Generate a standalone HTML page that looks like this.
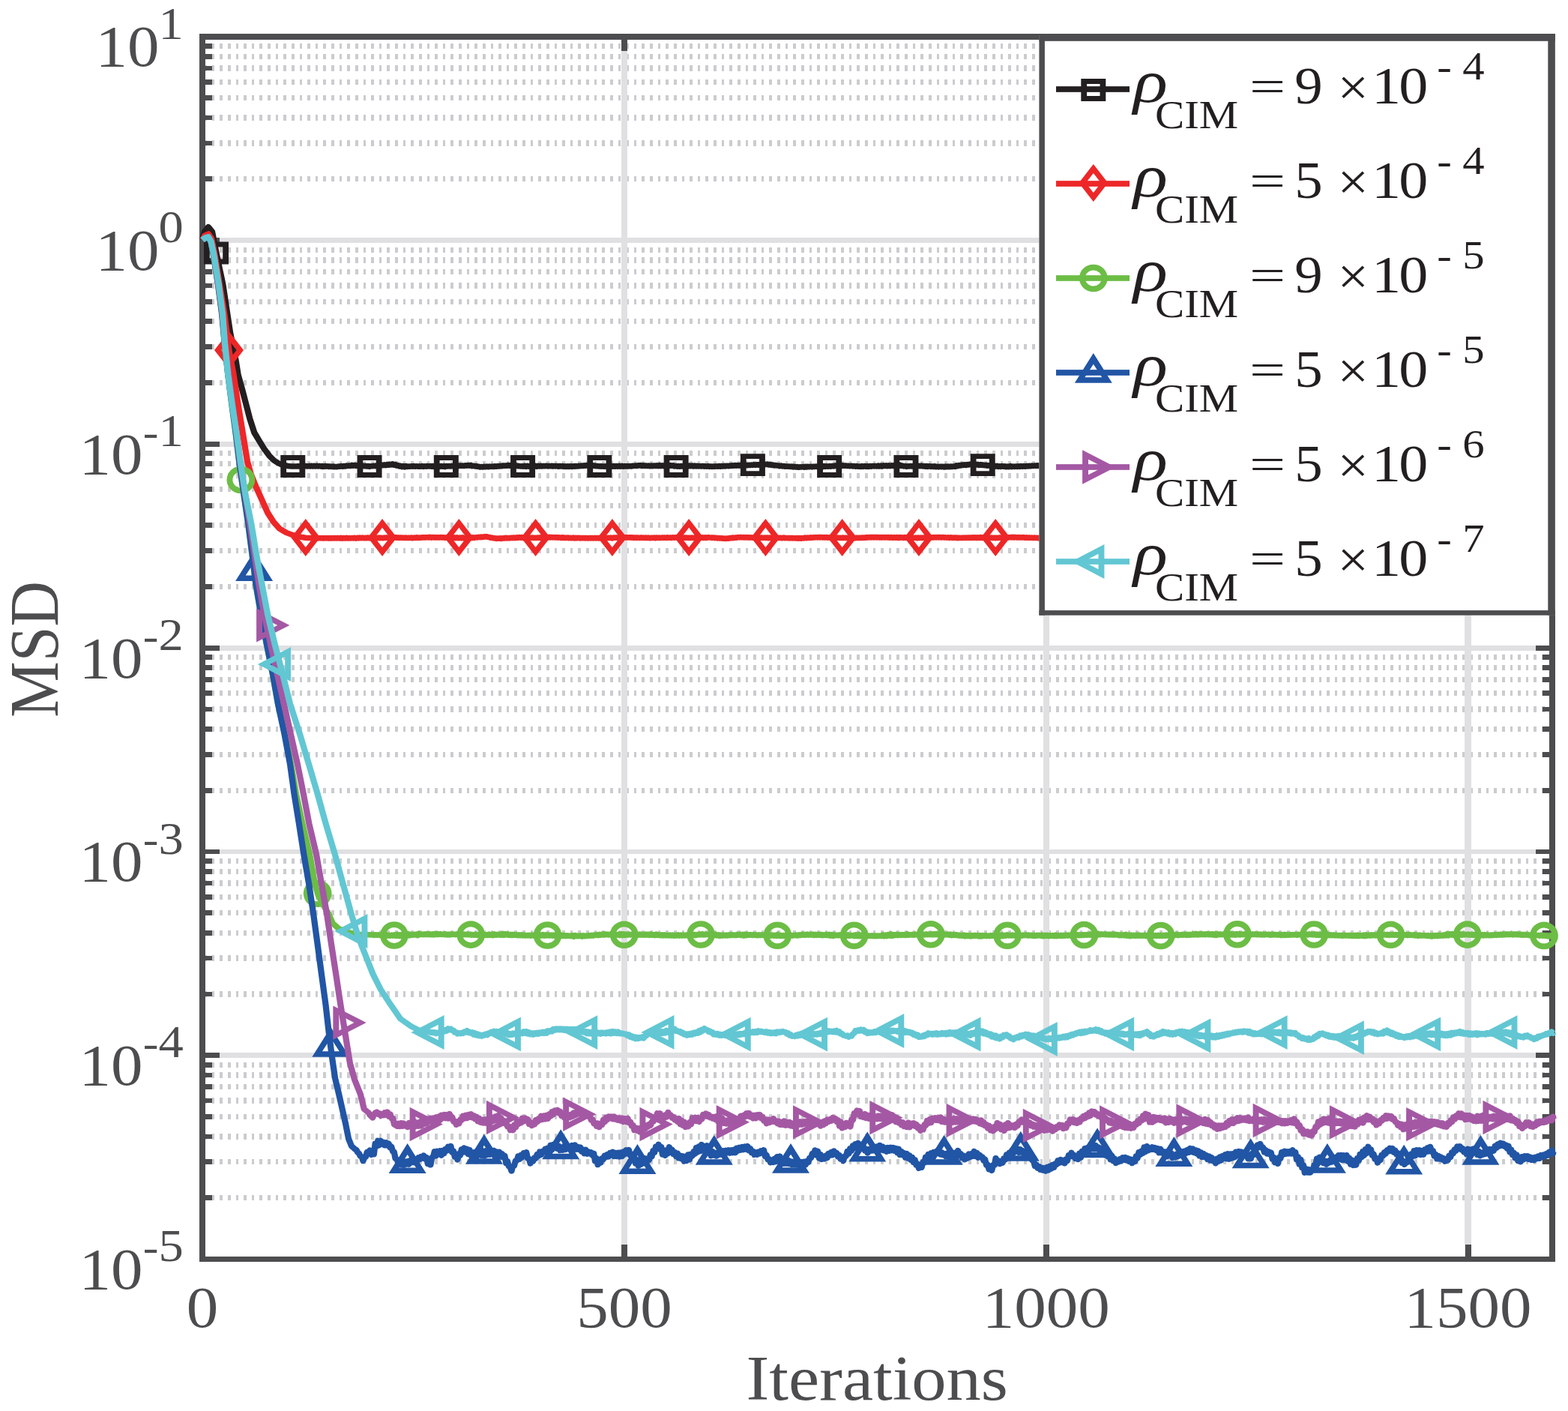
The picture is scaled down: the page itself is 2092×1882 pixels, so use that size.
<!DOCTYPE html>
<html lang="en"><head><meta charset="utf-8"><title>MSD versus Iterations</title><style>html,body{margin:0;padding:0;background:#fff}svg{display:block}</style></head><body><svg xmlns="http://www.w3.org/2000/svg" width="2092" height="1882" viewBox="0 0 2092 1882"><rect width="2092" height="1882" fill="#fff"/><g stroke="#cbccce" stroke-width="7.2" stroke-dasharray="3.5417 7.0833" fill="none" shape-rendering="crispEdges"><line x1="272.1" x2="2067" y1="1597.71" y2="1597.71"/><line x1="272.1" x2="2067" y1="1549.85" y2="1549.85"/><line x1="272.1" x2="2067" y1="1515.90" y2="1515.90"/><line x1="272.1" x2="2067" y1="1489.56" y2="1489.56"/><line x1="272.1" x2="2067" y1="1468.04" y2="1468.04"/><line x1="272.1" x2="2067" y1="1449.85" y2="1449.85"/><line x1="272.1" x2="2067" y1="1434.09" y2="1434.09"/><line x1="272.1" x2="2067" y1="1420.19" y2="1420.19"/><line x1="272.1" x2="2067" y1="1325.94" y2="1325.94"/><line x1="272.1" x2="2067" y1="1278.08" y2="1278.08"/><line x1="272.1" x2="2067" y1="1244.13" y2="1244.13"/><line x1="272.1" x2="2067" y1="1217.79" y2="1217.79"/><line x1="272.1" x2="2067" y1="1196.27" y2="1196.27"/><line x1="272.1" x2="2067" y1="1178.08" y2="1178.08"/><line x1="272.1" x2="2067" y1="1162.32" y2="1162.32"/><line x1="272.1" x2="2067" y1="1148.42" y2="1148.42"/><line x1="272.1" x2="2067" y1="1054.17" y2="1054.17"/><line x1="272.1" x2="2067" y1="1006.31" y2="1006.31"/><line x1="272.1" x2="2067" y1="972.36" y2="972.36"/><line x1="272.1" x2="2067" y1="946.02" y2="946.02"/><line x1="272.1" x2="2067" y1="924.50" y2="924.50"/><line x1="272.1" x2="2067" y1="906.31" y2="906.31"/><line x1="272.1" x2="2067" y1="890.55" y2="890.55"/><line x1="272.1" x2="2067" y1="876.65" y2="876.65"/><line x1="272.1" x2="2067" y1="782.40" y2="782.40"/><line x1="272.1" x2="2067" y1="734.54" y2="734.54"/><line x1="272.1" x2="2067" y1="700.59" y2="700.59"/><line x1="272.1" x2="2067" y1="674.25" y2="674.25"/><line x1="272.1" x2="2067" y1="652.73" y2="652.73"/><line x1="272.1" x2="2067" y1="634.54" y2="634.54"/><line x1="272.1" x2="2067" y1="618.78" y2="618.78"/><line x1="272.1" x2="2067" y1="604.88" y2="604.88"/><line x1="272.1" x2="2067" y1="510.63" y2="510.63"/><line x1="272.1" x2="2067" y1="462.77" y2="462.77"/><line x1="272.1" x2="2067" y1="428.82" y2="428.82"/><line x1="272.1" x2="2067" y1="402.48" y2="402.48"/><line x1="272.1" x2="2067" y1="380.96" y2="380.96"/><line x1="272.1" x2="2067" y1="362.77" y2="362.77"/><line x1="272.1" x2="2067" y1="347.01" y2="347.01"/><line x1="272.1" x2="2067" y1="333.11" y2="333.11"/><line x1="272.1" x2="2067" y1="238.86" y2="238.86"/><line x1="272.1" x2="2067" y1="191.00" y2="191.00"/><line x1="272.1" x2="2067" y1="157.05" y2="157.05"/><line x1="272.1" x2="2067" y1="130.71" y2="130.71"/><line x1="272.1" x2="2067" y1="109.19" y2="109.19"/><line x1="272.1" x2="2067" y1="91.00" y2="91.00"/><line x1="272.1" x2="2067" y1="75.24" y2="75.24"/><line x1="272.1" x2="2067" y1="61.34" y2="61.34"/></g>
<g fill="#e0e0e2" shape-rendering="crispEdges"><rect x="274" y="1404.35" width="1793" height="6.8"/><rect x="274" y="1132.58" width="1793" height="6.8"/><rect x="274" y="860.81" width="1793" height="6.8"/><rect x="274" y="589.04" width="1793" height="6.8"/><rect x="274" y="317.27" width="1793" height="6.8"/><rect x="828.73" y="52.8" width="8.3" height="1623.4"/><rect x="1391.60" y="52.8" width="8.3" height="1623.4"/><rect x="1954.47" y="52.8" width="8.3" height="1623.4"/></g>
<g fill="#4d4d4f" shape-rendering="crispEdges"><rect x="266.05" y="45" width="7.85" height="1637.8"/><rect x="2067" y="45" width="7.85" height="1637.8"/><rect x="266.05" y="45" width="1808.8" height="7.85"/><rect x="266.05" y="1676.1" width="1808.8" height="6.7"/><rect x="273.8" y="1594.31" width="9" height="6.8"/><rect x="2057.9" y="1594.31" width="9.2" height="6.8"/><rect x="273.8" y="1546.45" width="9" height="6.8"/><rect x="2057.9" y="1546.45" width="9.2" height="6.8"/><rect x="273.8" y="1512.50" width="9" height="6.8"/><rect x="2057.9" y="1512.50" width="9.2" height="6.8"/><rect x="273.8" y="1486.16" width="9" height="6.8"/><rect x="2057.9" y="1486.16" width="9.2" height="6.8"/><rect x="273.8" y="1464.64" width="9" height="6.8"/><rect x="2057.9" y="1464.64" width="9.2" height="6.8"/><rect x="273.8" y="1446.45" width="9" height="6.8"/><rect x="2057.9" y="1446.45" width="9.2" height="6.8"/><rect x="273.8" y="1430.69" width="9" height="6.8"/><rect x="2057.9" y="1430.69" width="9.2" height="6.8"/><rect x="273.8" y="1416.79" width="9" height="6.8"/><rect x="2057.9" y="1416.79" width="9.2" height="6.8"/><rect x="273.8" y="1404.35" width="19.1" height="6.8"/><rect x="2048.9" y="1404.35" width="18.2" height="6.8"/><rect x="273.8" y="1322.54" width="9" height="6.8"/><rect x="2057.9" y="1322.54" width="9.2" height="6.8"/><rect x="273.8" y="1274.68" width="9" height="6.8"/><rect x="2057.9" y="1274.68" width="9.2" height="6.8"/><rect x="273.8" y="1240.73" width="9" height="6.8"/><rect x="2057.9" y="1240.73" width="9.2" height="6.8"/><rect x="273.8" y="1214.39" width="9" height="6.8"/><rect x="2057.9" y="1214.39" width="9.2" height="6.8"/><rect x="273.8" y="1192.87" width="9" height="6.8"/><rect x="2057.9" y="1192.87" width="9.2" height="6.8"/><rect x="273.8" y="1174.68" width="9" height="6.8"/><rect x="2057.9" y="1174.68" width="9.2" height="6.8"/><rect x="273.8" y="1158.92" width="9" height="6.8"/><rect x="2057.9" y="1158.92" width="9.2" height="6.8"/><rect x="273.8" y="1145.02" width="9" height="6.8"/><rect x="2057.9" y="1145.02" width="9.2" height="6.8"/><rect x="273.8" y="1132.58" width="19.1" height="6.8"/><rect x="2048.9" y="1132.58" width="18.2" height="6.8"/><rect x="273.8" y="1050.77" width="9" height="6.8"/><rect x="2057.9" y="1050.77" width="9.2" height="6.8"/><rect x="273.8" y="1002.91" width="9" height="6.8"/><rect x="2057.9" y="1002.91" width="9.2" height="6.8"/><rect x="273.8" y="968.96" width="9" height="6.8"/><rect x="2057.9" y="968.96" width="9.2" height="6.8"/><rect x="273.8" y="942.62" width="9" height="6.8"/><rect x="2057.9" y="942.62" width="9.2" height="6.8"/><rect x="273.8" y="921.10" width="9" height="6.8"/><rect x="2057.9" y="921.10" width="9.2" height="6.8"/><rect x="273.8" y="902.91" width="9" height="6.8"/><rect x="2057.9" y="902.91" width="9.2" height="6.8"/><rect x="273.8" y="887.15" width="9" height="6.8"/><rect x="2057.9" y="887.15" width="9.2" height="6.8"/><rect x="273.8" y="873.25" width="9" height="6.8"/><rect x="2057.9" y="873.25" width="9.2" height="6.8"/><rect x="273.8" y="860.81" width="19.1" height="6.8"/><rect x="2048.9" y="860.81" width="18.2" height="6.8"/><rect x="273.8" y="779.00" width="9" height="6.8"/><rect x="2057.9" y="779.00" width="9.2" height="6.8"/><rect x="273.8" y="731.14" width="9" height="6.8"/><rect x="2057.9" y="731.14" width="9.2" height="6.8"/><rect x="273.8" y="697.19" width="9" height="6.8"/><rect x="2057.9" y="697.19" width="9.2" height="6.8"/><rect x="273.8" y="670.85" width="9" height="6.8"/><rect x="2057.9" y="670.85" width="9.2" height="6.8"/><rect x="273.8" y="649.33" width="9" height="6.8"/><rect x="2057.9" y="649.33" width="9.2" height="6.8"/><rect x="273.8" y="631.14" width="9" height="6.8"/><rect x="2057.9" y="631.14" width="9.2" height="6.8"/><rect x="273.8" y="615.38" width="9" height="6.8"/><rect x="2057.9" y="615.38" width="9.2" height="6.8"/><rect x="273.8" y="601.48" width="9" height="6.8"/><rect x="2057.9" y="601.48" width="9.2" height="6.8"/><rect x="273.8" y="589.04" width="19.1" height="6.8"/><rect x="2048.9" y="589.04" width="18.2" height="6.8"/><rect x="273.8" y="507.23" width="9" height="6.8"/><rect x="2057.9" y="507.23" width="9.2" height="6.8"/><rect x="273.8" y="459.37" width="9" height="6.8"/><rect x="2057.9" y="459.37" width="9.2" height="6.8"/><rect x="273.8" y="425.42" width="9" height="6.8"/><rect x="2057.9" y="425.42" width="9.2" height="6.8"/><rect x="273.8" y="399.08" width="9" height="6.8"/><rect x="2057.9" y="399.08" width="9.2" height="6.8"/><rect x="273.8" y="377.56" width="9" height="6.8"/><rect x="2057.9" y="377.56" width="9.2" height="6.8"/><rect x="273.8" y="359.37" width="9" height="6.8"/><rect x="2057.9" y="359.37" width="9.2" height="6.8"/><rect x="273.8" y="343.61" width="9" height="6.8"/><rect x="2057.9" y="343.61" width="9.2" height="6.8"/><rect x="273.8" y="329.71" width="9" height="6.8"/><rect x="2057.9" y="329.71" width="9.2" height="6.8"/><rect x="273.8" y="317.27" width="19.1" height="6.8"/><rect x="2048.9" y="317.27" width="18.2" height="6.8"/><rect x="273.8" y="235.46" width="9" height="6.8"/><rect x="2057.9" y="235.46" width="9.2" height="6.8"/><rect x="273.8" y="187.60" width="9" height="6.8"/><rect x="2057.9" y="187.60" width="9.2" height="6.8"/><rect x="273.8" y="153.65" width="9" height="6.8"/><rect x="2057.9" y="153.65" width="9.2" height="6.8"/><rect x="273.8" y="127.31" width="9" height="6.8"/><rect x="2057.9" y="127.31" width="9.2" height="6.8"/><rect x="273.8" y="105.79" width="9" height="6.8"/><rect x="2057.9" y="105.79" width="9.2" height="6.8"/><rect x="273.8" y="87.60" width="9" height="6.8"/><rect x="2057.9" y="87.60" width="9.2" height="6.8"/><rect x="273.8" y="71.84" width="9" height="6.8"/><rect x="2057.9" y="71.84" width="9.2" height="6.8"/><rect x="273.8" y="57.94" width="9" height="6.8"/><rect x="2057.9" y="57.94" width="9.2" height="6.8"/><rect x="828.77" y="1660" width="8.2" height="16.3"/><rect x="828.77" y="52.7" width="8.2" height="15.5"/><rect x="1391.65" y="1660" width="8.2" height="16.3"/><rect x="1391.65" y="52.7" width="8.2" height="15.5"/><rect x="1954.53" y="1660" width="8.2" height="16.3"/><rect x="1954.53" y="52.7" width="8.2" height="15.5"/></g>
<g font-family="'Liberation Serif','Times New Roman',Times,serif"><text transform="translate(270.00 1770.40) scale(1.0830 1)" font-size="78.5" text-anchor="middle" fill="#4d4d4f">0</text><text transform="translate(832.88 1770.40) scale(1.0830 1)" font-size="78.5" text-anchor="middle" fill="#4d4d4f">500</text><text transform="translate(1395.75 1770.40) scale(1.0830 1)" font-size="78.5" text-anchor="middle" fill="#4d4d4f">1000</text><text transform="translate(1958.62 1770.40) scale(1.0830 1)" font-size="78.5" text-anchor="middle" fill="#4d4d4f">1500</text><text transform="translate(127.60 88.30) scale(1.0830 1)" font-size="78.5" text-anchor="start" fill="#4d4d4f">10</text><text transform="translate(211.40 51.50) scale(1.1000 1)" font-size="60.5" text-anchor="start" fill="#4d4d4f">1</text><text transform="translate(127.60 360.07) scale(1.0830 1)" font-size="78.5" text-anchor="start" fill="#4d4d4f">10</text><text transform="translate(211.40 323.27) scale(1.1000 1)" font-size="60.5" text-anchor="start" fill="#4d4d4f">0</text><text transform="translate(105.50 631.84) scale(1.0830 1)" font-size="78.5" text-anchor="start" fill="#4d4d4f">10</text><text transform="translate(190.70 594.84) scale(1.1300 1)" font-size="55.0" text-anchor="start" fill="#4d4d4f">-</text><text transform="translate(211.40 595.04) scale(1.1000 1)" font-size="60.5" text-anchor="start" fill="#4d4d4f">1</text><text transform="translate(105.50 903.61) scale(1.0830 1)" font-size="78.5" text-anchor="start" fill="#4d4d4f">10</text><text transform="translate(190.70 866.61) scale(1.1300 1)" font-size="55.0" text-anchor="start" fill="#4d4d4f">-</text><text transform="translate(211.40 866.81) scale(1.1000 1)" font-size="60.5" text-anchor="start" fill="#4d4d4f">2</text><text transform="translate(105.50 1175.38) scale(1.0830 1)" font-size="78.5" text-anchor="start" fill="#4d4d4f">10</text><text transform="translate(190.70 1138.38) scale(1.1300 1)" font-size="55.0" text-anchor="start" fill="#4d4d4f">-</text><text transform="translate(211.40 1138.58) scale(1.1000 1)" font-size="60.5" text-anchor="start" fill="#4d4d4f">3</text><text transform="translate(105.50 1447.15) scale(1.0830 1)" font-size="78.5" text-anchor="start" fill="#4d4d4f">10</text><text transform="translate(190.70 1410.15) scale(1.1300 1)" font-size="55.0" text-anchor="start" fill="#4d4d4f">-</text><text transform="translate(211.40 1410.35) scale(1.1000 1)" font-size="60.5" text-anchor="start" fill="#4d4d4f">4</text><text transform="translate(105.50 1718.92) scale(1.0830 1)" font-size="78.5" text-anchor="start" fill="#4d4d4f">10</text><text transform="translate(190.70 1681.92) scale(1.1300 1)" font-size="55.0" text-anchor="start" fill="#4d4d4f">-</text><text transform="translate(211.40 1682.12) scale(1.1000 1)" font-size="60.5" text-anchor="start" fill="#4d4d4f">5</text><text transform="translate(1170.20 1866.90) scale(1.0820 1)" font-size="85.5" text-anchor="middle" fill="#4d4d4f">Iterations</text><text transform="translate(77.10 866.00) scale(1.1100 1) rotate(-90)" font-size="84.0" text-anchor="middle" fill="#4d4d4f">MSD</text></g>
<path transform="scale(1.1 1)" d="M245.5 320.0L248.2 309.0L252.7 302.7L257.3 309.0L262.3 337.5L266.4 359.0L270.3 378.9L275.7 418.5L279.1 443.0L282.1 460.0L285.9 480.0L288.8 500.0L293.7 519.2L298.3 538.5L302.8 557.7L308.4 576.9L314.7 588.5L320.3 598.5L326.5 607.7L332.2 614.0L337.1 617.5L341.8 619.8L347.3 621.0L349.1 621.6L350.0 621.7L351.6 621.8L353.3 621.9L354.9 621.9L356.5 622.0L358.2 621.9L359.8 622.0L361.5 621.7L363.1 622.1L364.7 621.7L366.4 622.0L368.0 621.6L369.6 621.9L371.3 621.5L372.9 622.0L374.5 621.4L376.2 622.0L377.8 621.3L379.5 621.9L381.1 621.3L382.7 621.9L384.4 621.3L386.0 621.9L387.6 621.4L389.3 622.2L390.9 621.5L392.5 622.4L394.2 621.5L395.8 622.2L397.5 621.8L399.1 622.4L400.7 621.9L402.4 622.6L404.0 622.0L405.6 622.7L407.3 622.4L408.9 622.8L410.5 621.9L412.2 622.3L413.8 621.6L415.5 622.2L417.1 621.5L418.7 622.1L420.4 621.1L422.0 621.6L423.6 621.0L425.3 621.6L426.9 620.4L428.5 621.3L430.2 620.4L431.8 621.4L433.5 620.8L435.1 621.5L436.7 621.0L438.4 621.7L440.0 621.1L441.6 621.8L443.3 621.3L444.9 622.1L446.5 621.5L448.2 622.4L449.8 621.7L451.5 621.8L453.1 621.3L454.7 621.7L456.4 621.0L458.0 621.4L459.6 620.5L461.3 621.0L462.9 620.1L464.5 620.8L466.2 619.9L467.8 620.7L469.5 619.5L471.1 620.3L472.7 619.3L474.4 620.0L476.0 618.8L477.6 620.3L479.3 619.5L480.9 621.1L482.5 620.5L484.2 621.9L485.8 621.3L487.5 622.6L489.1 621.6L490.7 622.8L492.4 621.5L494.0 622.5L495.6 621.9L497.3 622.3L498.9 621.7L500.5 622.2L502.2 621.6L503.8 622.3L505.5 621.7L507.1 622.3L508.7 621.8L510.4 622.3L512.0 621.6L513.6 622.4L515.3 621.8L516.9 622.2L518.5 621.6L520.2 622.1L521.8 621.6L523.5 622.2L525.1 621.5L526.7 622.5L528.4 621.6L530.0 622.2L531.6 621.8L533.3 622.4L534.9 621.6L536.5 622.3L538.2 621.6L539.8 622.6L541.5 621.6L543.1 622.1L544.7 621.5L546.4 622.1L548.0 621.4L549.6 621.9L551.3 621.3L552.9 621.7L554.5 621.1L556.2 621.7L557.8 620.9L559.5 621.4L561.1 620.9L562.7 621.5L564.4 620.8L566.0 621.2L567.6 620.7L569.3 621.2L570.9 620.4L572.5 621.7L574.2 621.2L575.8 622.0L577.5 621.5L579.1 622.4L580.7 622.2L582.4 623.0L584.0 622.4L585.6 623.0L587.3 622.3L588.9 622.8L590.5 622.1L592.2 622.8L593.8 622.0L595.5 622.5L597.1 622.0L598.7 622.5L600.4 621.8L602.0 622.3L603.6 621.6L605.3 622.1L606.9 621.3L608.5 621.8L610.2 621.0L611.8 621.4L613.5 621.0L615.1 621.2L616.7 620.5L618.4 621.2L620.0 620.4L621.6 621.4L623.3 620.9L624.9 621.4L626.5 621.0L628.2 621.8L629.8 621.4L631.5 622.1L633.1 621.7L634.7 622.2L636.4 621.4L638.0 622.5L639.6 621.3L641.3 622.2L642.9 621.6L644.5 622.4L646.2 621.6L647.8 622.4L649.5 621.3L651.1 622.2L652.7 621.3L654.4 621.9L656.0 621.3L657.6 621.9L659.3 621.4L660.9 621.8L662.5 621.2L664.2 621.9L665.8 621.4L667.5 621.8L669.1 621.3L670.7 622.0L672.4 621.4L674.0 621.9L675.6 621.5L677.3 622.2L678.9 621.5L680.5 622.1L682.2 621.5L683.8 622.4L685.5 621.8L687.1 622.4L688.7 621.8L690.4 622.5L692.0 621.7L693.6 622.5L695.3 621.7L696.9 622.2L698.5 621.6L700.2 622.1L701.8 621.3L703.5 621.8L705.1 620.9L706.7 621.6L708.4 620.7L710.0 621.3L711.6 620.6L713.3 621.3L714.9 620.3L716.5 621.2L718.2 620.6L719.8 621.5L721.5 621.0L723.1 621.8L724.7 621.4L726.4 622.1L728.0 621.7L729.6 622.2L731.3 621.8L732.9 622.3L734.5 621.8L736.2 622.2L737.8 621.6L739.5 622.3L741.1 621.5L742.7 622.2L744.4 621.5L746.0 622.2L747.6 621.6L749.3 622.2L750.9 621.4L752.5 622.3L754.2 621.4L755.8 622.2L757.5 621.6L759.1 622.1L760.7 621.6L762.4 622.1L764.0 621.5L765.6 622.0L767.3 621.2L768.9 621.6L770.5 620.9L772.2 621.6L773.8 620.7L775.5 621.1L777.1 620.5L778.7 621.5L780.4 620.8L782.0 621.5L783.6 621.0L785.3 621.6L786.9 621.0L788.5 621.8L790.2 621.0L791.8 621.8L793.5 620.9L795.1 621.6L796.7 620.8L798.4 621.7L800.0 620.5L801.6 621.6L803.3 620.7L804.9 621.6L806.5 620.6L808.2 621.4L809.8 620.6L811.5 621.3L813.1 620.5L814.7 621.3L816.4 620.8L818.0 622.0L819.6 621.4L821.3 622.2L822.9 621.6L824.5 622.3L826.2 621.5L827.8 622.1L829.5 621.4L831.1 622.0L832.7 621.3L834.4 621.9L836.0 621.0L837.6 621.7L839.3 621.1L840.9 622.0L842.5 621.1L844.2 621.9L845.8 621.3L847.5 621.9L849.1 621.6L850.7 622.1L852.4 621.4L854.0 622.2L855.6 621.7L857.3 622.3L858.9 621.6L860.5 622.4L862.2 621.9L863.8 622.4L865.5 622.0L867.1 622.4L868.7 621.7L870.4 622.3L872.0 621.6L873.6 622.2L875.3 621.5L876.9 622.1L878.5 621.3L880.2 621.9L881.8 621.2L883.5 621.8L885.1 621.1L886.7 621.5L888.4 620.8L890.0 621.3L891.6 620.5L893.3 621.2L894.9 620.4L896.5 621.2L898.2 620.5L899.8 620.9L901.5 620.2L903.1 620.8L904.7 620.2L906.4 620.8L908.0 620.2L909.6 620.5L911.3 620.1L912.9 620.4L914.5 619.7L916.2 620.4L917.8 619.7L919.5 620.2L921.1 619.5L922.7 620.0L924.4 619.3L926.0 619.7L927.6 619.2L929.3 619.6L930.9 619.1L932.5 620.1L934.2 619.6L935.8 620.5L937.5 619.9L939.1 621.0L940.7 620.4L942.4 621.1L944.0 620.9L945.6 621.8L947.3 621.1L948.9 622.0L950.5 621.5L952.2 622.2L953.8 621.9L955.5 622.3L957.1 622.0L958.7 622.6L960.4 622.0L962.0 622.9L963.6 622.3L965.3 623.1L966.9 622.5L968.5 623.3L970.2 622.8L971.8 623.1L973.5 622.4L975.1 623.2L976.7 622.2L978.4 623.0L980.0 622.3L981.6 622.8L983.3 622.2L984.9 622.9L986.5 622.2L988.2 622.6L989.8 622.0L991.5 622.6L993.1 621.7L994.7 622.5L996.4 621.5L998.0 622.7L999.6 621.6L1001.3 622.5L1002.9 621.7L1004.5 622.3L1006.2 621.6L1007.8 622.2L1009.5 621.4L1011.1 621.9L1012.7 621.0L1014.4 621.6L1016.0 620.7L1017.6 621.2L1019.3 620.5L1020.9 621.4L1022.5 620.8L1024.2 621.3L1025.8 621.0L1027.5 621.6L1029.1 621.2L1030.7 621.8L1032.4 621.2L1034.0 622.0L1035.6 621.4L1037.3 622.3L1038.9 621.6L1040.5 622.3L1042.2 621.9L1043.8 622.6L1045.5 621.6L1047.1 622.4L1048.7 621.6L1050.4 622.4L1052.0 621.6L1053.6 622.5L1055.3 621.6L1056.9 622.2L1058.5 621.4L1060.2 621.9L1061.8 621.4L1063.5 622.1L1065.1 621.1L1066.7 622.0L1068.4 621.0L1070.0 622.1L1071.6 620.9L1073.3 621.6L1074.9 620.8L1076.5 621.7L1078.2 620.8L1079.8 621.6L1081.5 620.7L1083.1 621.5L1084.7 620.5L1086.4 621.5L1088.0 620.4L1089.6 621.4L1091.3 620.2L1092.9 621.4L1094.5 621.0L1096.2 621.9L1097.8 621.6L1099.5 622.4L1101.1 621.7L1102.7 622.1L1104.4 621.4L1106.0 622.1L1107.6 621.4L1109.3 622.1L1110.9 621.1L1112.5 621.8L1114.2 621.2L1115.8 621.8L1117.5 621.1L1119.1 622.0L1120.7 621.5L1122.4 622.3L1124.0 621.5L1125.6 622.4L1127.3 621.7L1128.9 622.4L1130.5 621.9L1132.2 622.5L1133.8 621.8L1135.5 622.8L1137.1 622.2L1138.7 622.9L1140.4 622.2L1142.0 622.7L1143.6 622.2L1145.3 623.0L1146.9 622.0L1148.5 622.8L1150.2 622.0L1151.8 622.8L1153.5 622.0L1155.1 622.6L1156.7 622.0L1158.4 622.4L1160.0 620.9L1161.6 621.8L1163.3 620.5L1164.9 621.1L1166.5 620.0L1168.2 620.5L1169.8 619.8L1171.5 620.5L1173.1 619.5L1174.7 620.0L1176.4 619.3L1178.0 619.7L1179.6 619.2L1181.3 620.0L1182.9 619.1L1184.5 620.1L1186.2 619.5L1187.8 620.4L1189.5 619.6L1191.1 620.5L1192.7 620.1L1194.4 620.8L1196.0 620.2L1197.6 621.2L1199.3 620.7L1200.9 621.6L1202.5 621.1L1204.2 621.7L1205.8 621.3L1207.5 622.2L1209.1 621.4L1210.7 622.5L1212.4 621.8L1214.0 622.4L1215.6 621.6L1217.3 622.4L1218.9 621.7L1220.5 622.7L1222.2 622.0L1223.8 622.7L1225.5 621.6L1227.1 622.7L1228.7 621.9L1230.4 622.6L1232.0 621.9L1233.6 622.4L1235.3 621.8L1236.9 622.4L1238.5 621.6L1240.2 622.3L1241.8 621.6L1243.5 622.3L1245.1 621.5L1246.7 621.9L1248.4 621.3L1250.0 621.8L1251.6 621.1L1253.3 621.6L1254.9 621.0L1256.5 621.5L1258.2 620.8L1259.8 621.4L1261.5 620.9L1263.1 621.3L1264.7 621.0L1266.4 621.6L1268.0 620.8L1269.6 621.9L1271.3 621.1L1272.9 621.8L1274.5 621.3L1276.2 622.0L1277.8 621.4L1279.5 622.3L1281.1 621.5L1282.7 622.2L1284.4 621.7L1286.0 622.4L1287.6 621.6L1289.3 622.3L1290.9 621.7L1292.5 622.4L1294.2 621.8L1295.8 622.3L1297.5 621.6L1299.1 622.7L1300.7 621.6L1302.4 622.4L1304.0 621.5L1305.6 622.4L1307.3 621.7L1308.9 622.5L1310.5 621.5L1312.2 622.4L1313.8 621.6L1315.5 622.3L1317.1 621.7L1318.7 622.3L1320.4 621.7L1322.0 622.1L1323.6 621.6L1325.3 622.3L1326.9 621.8L1328.5 622.4L1330.2 621.6L1331.8 622.4L1333.5 621.5L1335.1 622.4L1336.7 621.6L1338.4 622.3L1340.0 621.7L1341.6 622.3L1343.3 621.7L1344.9 622.3L1346.5 621.6L1348.2 622.2L1349.8 621.8L1351.5 622.3L1353.1 621.6L1354.7 622.2L1356.4 621.5L1358.0 622.4L1359.6 621.7L1361.3 622.4L1362.9 621.7L1364.5 622.1L1366.2 621.6L1367.8 622.4L1369.5 621.8L1371.1 622.5L1372.7 621.7L1374.4 622.4L1376.0 621.5L1377.6 622.5L1379.3 621.5L1380.9 622.5L1382.5 621.5L1384.2 622.4L1385.8 621.7L1387.5 622.3L1389.1 621.7L1390.7 622.4L1392.4 621.8L1394.0 622.3L1395.6 621.6L1397.3 622.3L1398.9 621.7L1400.5 622.2L1402.2 621.8L1403.8 622.4L1405.5 621.8L1407.1 622.4L1408.7 621.7L1410.4 622.2L1412.0 621.8L1413.6 622.2L1415.3 621.8L1416.9 622.3L1418.5 621.5L1420.2 622.3L1421.8 621.5L1423.5 622.4L1425.1 621.7L1426.7 622.2L1428.4 621.8L1430.0 622.2L1431.6 621.7L1433.3 622.3L1434.9 621.7L1436.5 622.3L1438.2 621.5L1439.8 622.4L1441.5 621.6L1443.1 622.4L1444.7 621.4L1446.4 622.4L1448.0 621.4L1449.6 622.5L1451.3 621.7L1452.9 622.6L1454.5 621.4L1456.2 622.4L1457.8 621.5L1459.5 622.3L1461.1 621.6L1462.7 622.6L1464.4 621.5L1466.0 622.6L1467.6 621.5L1469.3 622.2L1470.9 621.6L1472.5 622.4L1474.2 621.5L1475.8 622.5L1477.5 621.4L1479.1 622.5L1480.7 621.6L1482.4 622.2L1484.0 621.5L1485.6 622.4L1487.3 621.8L1488.9 622.6L1490.5 621.4L1492.2 622.2L1493.8 621.8L1495.5 622.3L1497.1 621.7L1498.7 622.3L1500.4 621.8L1502.0 622.4L1503.6 621.6L1505.3 622.4L1506.9 621.6L1508.5 622.2L1510.2 621.8L1511.8 622.3L1513.5 621.7L1515.1 622.4L1516.7 621.6L1518.4 622.3L1520.0 621.6L1521.6 622.5L1523.3 621.5L1524.9 622.5L1526.5 621.7L1528.2 622.5L1529.8 621.5L1531.5 622.5L1533.1 621.5L1534.7 622.4L1536.4 621.7L1538.0 622.4L1539.6 621.7L1541.3 622.3L1542.9 621.7L1544.5 622.3L1546.2 621.7L1547.8 622.2L1549.5 621.8L1551.1 622.4L1552.7 621.8L1554.4 622.4L1556.0 621.5L1557.6 622.3L1559.3 621.8L1560.9 622.4L1562.5 621.5L1564.2 622.3L1565.8 621.8L1567.5 622.5L1569.1 621.8L1570.7 622.5L1572.4 621.7L1574.0 622.4L1575.6 621.7L1577.3 622.4L1578.9 621.8L1580.5 622.4L1582.2 621.8L1583.8 622.2L1585.5 621.8L1587.1 622.3L1588.7 621.8L1590.4 622.4L1592.0 621.6L1593.6 622.3L1595.3 621.8L1596.9 622.2L1598.5 621.8L1600.2 622.4L1601.8 621.6L1603.5 622.2L1605.1 621.8L1606.7 622.2L1608.4 621.6L1610.0 622.3L1611.6 621.6L1613.3 622.4L1614.9 621.7L1616.5 622.4L1618.2 621.5L1619.8 622.3L1621.5 621.7L1623.1 622.3L1624.7 621.8L1626.4 622.2L1628.0 621.6L1629.6 622.2L1631.3 621.8L1632.9 622.3L1634.5 621.7L1636.2 622.4L1637.8 621.7L1639.5 622.3L1641.1 621.6L1642.7 622.4L1644.4 621.5L1646.0 622.4L1647.6 621.5L1649.3 622.3L1650.9 621.6L1652.5 622.2L1654.2 621.8L1655.8 622.4L1657.5 621.6L1659.1 622.3L1660.7 621.6L1662.4 622.4L1664.0 621.7L1665.6 622.2L1667.3 621.7L1668.9 622.4L1670.5 621.8L1672.2 622.2L1673.8 621.7L1675.5 622.3L1677.1 621.7L1678.7 622.4L1680.4 621.8L1682.0 622.3L1683.6 621.7L1685.3 622.3L1686.9 621.7L1688.5 622.2L1690.2 621.6L1691.8 622.3L1693.5 621.8L1695.1 622.2L1696.7 621.6L1698.4 622.4L1700.0 621.6L1701.6 622.3L1703.3 621.8L1704.9 622.3L1706.5 621.7L1708.2 622.3L1709.8 621.8L1711.5 622.2L1713.1 621.7L1714.7 622.4L1716.4 621.5L1718.0 622.4L1719.6 621.8L1721.3 622.2L1722.9 621.7L1724.5 622.2L1726.2 621.6L1727.8 622.2L1729.5 621.5L1731.1 622.2L1732.7 621.6L1734.4 622.2L1736.0 621.7L1737.6 622.4L1739.3 621.7L1740.9 622.3L1742.5 621.7L1744.2 622.4L1745.8 621.6L1747.5 622.3L1749.1 621.5L1750.7 622.3L1752.4 621.8L1754.0 622.4L1755.6 621.5L1757.3 622.2L1758.9 621.6L1760.5 622.4L1762.2 621.6L1763.8 622.3L1765.5 621.8L1767.1 622.3L1768.7 621.8L1770.4 622.3L1772.0 621.8L1773.6 622.3L1775.3 621.6L1776.9 622.4L1778.5 621.6L1780.2 622.3L1781.8 621.5L1783.5 622.4L1785.1 621.8L1786.7 622.4L1788.4 621.7L1790.0 622.4L1791.6 621.7L1793.3 622.3L1794.9 621.7L1796.5 622.2L1798.2 621.6L1799.8 622.3L1801.5 621.7L1803.1 622.2L1804.7 621.6L1806.4 622.4L1808.0 621.4L1809.6 622.4L1811.3 621.4L1812.9 622.4L1814.5 621.8L1816.2 622.4L1817.8 621.7L1819.5 622.3L1821.1 621.7L1822.7 622.5L1824.4 621.6L1826.0 622.3L1827.6 621.5L1829.3 622.2L1830.9 621.6L1832.5 622.2L1834.2 621.8L1835.8 622.2L1837.5 621.5L1839.1 622.2L1840.7 621.8L1842.4 622.5L1844.0 621.7L1845.6 622.4L1847.3 621.6L1848.9 622.2L1850.5 621.5L1852.2 622.1L1853.8 621.6L1855.5 622.0L1857.1 621.4L1858.7 622.1L1860.4 621.4L1862.0 622.2L1863.6 621.2L1865.3 621.9L1866.9 621.5L1868.5 622.0L1870.2 621.3L1871.8 621.8L1873.5 621.3L1875.1 621.8L1876.7 621.2L1878.4 621.8L1880.0 621.1L1881.6 622.1L1883.3 621.0L1884.1 621.5" fill="none" stroke="#231f20" stroke-width="7.5" stroke-linejoin="round" stroke-linecap="butt"/>
<g fill="#231f20" fill-rule="evenodd"><path d="M272.00 322.60L305.00 322.60L305.00 352.40L272.00 352.40ZM279.80 329.40L297.20 329.40L297.20 345.60L279.80 345.60Z"/><path d="M374.27 607.10L407.27 607.10L407.27 636.90L374.27 636.90ZM382.07 613.90L399.47 613.90L399.47 630.10L382.07 630.10Z"/><path d="M476.54 607.10L509.54 607.10L509.54 636.90L476.54 636.90ZM484.34 613.90L501.74 613.90L501.74 630.10L484.34 630.10Z"/><path d="M578.81 607.10L611.81 607.10L611.81 636.90L578.81 636.90ZM586.61 613.90L604.01 613.90L604.01 630.10L586.61 630.10Z"/><path d="M681.08 607.10L714.08 607.10L714.08 636.90L681.08 636.90ZM688.88 613.90L706.28 613.90L706.28 630.10L688.88 630.10Z"/><path d="M783.35 607.10L816.35 607.10L816.35 636.90L783.35 636.90ZM791.15 613.90L808.55 613.90L808.55 630.10L791.15 630.10Z"/><path d="M885.62 607.10L918.62 607.10L918.62 636.90L885.62 636.90ZM893.42 613.90L910.82 613.90L910.82 630.10L893.42 630.10Z"/><path d="M987.89 605.30L1020.89 605.30L1020.89 635.10L987.89 635.10ZM995.69 612.10L1013.09 612.10L1013.09 628.30L995.69 628.30Z"/><path d="M1090.16 607.10L1123.16 607.10L1123.16 636.90L1090.16 636.90ZM1097.96 613.90L1115.36 613.90L1115.36 630.10L1097.96 630.10Z"/><path d="M1192.43 607.10L1225.43 607.10L1225.43 636.90L1192.43 636.90ZM1200.23 613.90L1217.63 613.90L1217.63 630.10L1200.23 630.10Z"/><path d="M1294.70 605.30L1327.70 605.30L1327.70 635.10L1294.70 635.10ZM1302.50 612.10L1319.90 612.10L1319.90 628.30L1302.50 628.30Z"/><path d="M1396.97 607.10L1429.97 607.10L1429.97 636.90L1396.97 636.90ZM1404.77 613.90L1422.17 613.90L1422.17 630.10L1404.77 630.10Z"/><path d="M1499.24 607.10L1532.24 607.10L1532.24 636.90L1499.24 636.90ZM1507.04 613.90L1524.44 613.90L1524.44 630.10L1507.04 630.10Z"/><path d="M1601.51 607.10L1634.51 607.10L1634.51 636.90L1601.51 636.90ZM1609.31 613.90L1626.71 613.90L1626.71 630.10L1609.31 630.10Z"/><path d="M1703.78 607.10L1736.78 607.10L1736.78 636.90L1703.78 636.90ZM1711.58 613.90L1728.98 613.90L1728.98 630.10L1711.58 630.10Z"/><path d="M1806.05 607.10L1839.05 607.10L1839.05 636.90L1806.05 636.90ZM1813.85 613.90L1831.25 613.90L1831.25 630.10L1813.85 630.10Z"/><path d="M1908.32 607.10L1941.32 607.10L1941.32 636.90L1908.32 636.90ZM1916.12 613.90L1933.52 613.90L1933.52 630.10L1916.12 630.10Z"/><path d="M2010.59 607.10L2043.59 607.10L2043.59 636.90L2010.59 636.90ZM2018.39 613.90L2035.79 613.90L2035.79 630.10L2018.39 630.10Z"/></g>
<path transform="scale(1.1 1)" d="M245.5 320.0L248.6 314.0L252.7 312.0L256.4 318.0L260.5 340.0L266.4 380.0L272.1 418.5L277.7 467.5L283.3 500.0L288.6 538.5L294.3 576.9L300.0 615.4L304.2 632.0L310.3 648.8L317.5 666.4L324.7 684.0L331.9 696.3L339.1 705.1L347.1 710.4L354.3 713.4L361.8 715.8L370.5 717.3L372.7 717.4L374.4 717.4L376.0 717.5L377.6 717.4L379.3 717.6L380.9 717.5L382.5 717.7L384.2 717.5L385.8 717.9L387.5 717.6L389.1 717.9L390.7 717.6L392.4 718.0L394.0 717.6L395.6 717.9L397.3 717.6L398.9 718.1L400.5 717.6L402.2 718.1L403.8 717.4L405.5 718.1L407.1 717.4L408.7 718.0L410.4 717.4L412.0 718.1L413.6 717.3L415.3 718.2L416.9 717.4L418.5 718.1L420.2 717.3L421.8 718.1L423.5 717.5L425.1 718.0L426.7 717.5L428.4 718.0L430.0 717.2L431.6 718.1L433.3 717.2L434.9 717.9L436.5 717.1L438.2 717.8L439.8 717.1L441.5 717.8L443.1 717.3L444.7 717.8L446.4 717.0L448.0 717.8L449.6 717.2L451.3 717.8L452.9 717.1L454.5 717.6L456.2 717.1L457.8 717.9L459.5 717.0L461.1 717.7L462.7 717.2L464.4 717.8L466.0 717.1L467.6 717.5L469.3 716.9L470.9 717.6L472.5 716.8L474.2 717.5L475.8 716.6L477.5 717.3L479.1 716.7L480.7 717.2L482.4 716.9L484.0 717.4L485.6 717.0L487.3 717.4L488.9 717.1L490.5 717.5L492.2 717.1L493.8 717.6L495.5 717.3L497.1 717.6L498.7 717.0L500.4 717.8L502.0 716.9L503.6 717.5L505.3 716.8L506.9 717.5L508.5 716.9L510.2 717.3L511.8 716.8L513.5 717.1L515.1 716.7L516.7 717.0L518.4 716.5L520.0 717.0L521.6 716.3L523.3 717.2L524.9 716.4L526.5 717.0L528.2 716.6L529.8 717.1L531.5 716.7L533.1 717.1L534.7 716.5L536.4 717.1L538.0 716.7L539.6 717.3L541.3 716.8L542.9 717.3L544.5 716.8L546.2 717.4L547.8 716.8L549.5 717.5L551.1 716.8L552.7 717.8L554.4 716.9L556.0 717.8L557.6 717.1L559.3 717.7L560.9 716.8L562.5 718.0L564.2 717.2L565.8 717.8L567.5 717.2L569.1 717.7L570.7 717.2L572.4 717.5L574.0 716.8L575.6 717.4L577.3 716.7L578.9 716.9L580.5 716.3L582.2 716.7L583.8 716.1L585.5 716.6L587.1 715.8L588.7 716.0L590.4 715.7L592.0 716.5L593.6 716.5L595.3 717.3L596.9 717.1L598.5 717.9L600.2 717.7L601.8 718.5L603.5 718.0L605.1 718.3L606.7 717.8L608.4 718.4L610.0 717.7L611.6 718.0L613.3 717.3L614.9 717.9L616.5 717.4L618.2 717.9L619.8 717.2L621.5 717.7L623.1 716.9L624.7 717.7L626.4 716.8L628.0 717.4L629.6 716.6L631.3 717.2L632.9 716.6L634.5 717.5L636.2 716.8L637.8 717.4L639.5 716.7L641.1 717.5L642.7 717.0L644.4 717.6L646.0 717.0L647.6 717.6L649.3 717.2L650.9 717.5L652.5 716.9L654.2 717.4L655.8 716.8L657.5 717.4L659.1 716.7L660.7 717.1L662.4 716.7L664.0 717.2L665.6 716.3L667.3 716.9L668.9 716.4L670.5 716.9L672.2 716.6L673.8 717.1L675.5 716.6L677.1 717.2L678.7 716.8L680.4 717.4L682.0 716.8L683.6 717.5L685.3 717.1L686.9 717.5L688.5 717.0L690.2 717.7L691.8 717.3L693.5 717.8L695.1 717.1L696.7 717.9L698.4 717.3L700.0 717.8L701.6 717.2L703.3 717.9L704.9 717.4L706.5 717.8L708.2 717.5L709.8 717.9L711.5 717.4L713.1 718.0L714.7 717.5L716.4 717.9L718.0 717.4L719.6 717.9L721.3 717.5L722.9 717.9L724.5 717.4L726.2 717.9L727.8 717.3L729.5 718.0L731.1 717.2L732.7 718.0L734.4 717.0L736.0 717.8L737.6 717.2L739.3 717.6L740.9 717.1L742.5 717.9L744.2 716.9L745.8 717.3L747.5 716.9L749.1 717.3L750.7 716.6L752.4 717.0L754.0 716.4L755.6 717.0L757.3 716.6L758.9 717.0L760.5 716.7L762.2 717.1L763.8 716.7L765.5 717.2L767.1 716.8L768.7 717.4L770.4 716.9L772.0 717.4L773.6 717.0L775.3 717.5L776.9 716.9L778.5 717.4L780.2 717.1L781.8 717.6L783.5 717.1L785.1 717.6L786.7 717.1L788.4 717.8L790.0 717.2L791.6 717.5L793.3 717.1L794.9 717.7L796.5 717.0L798.2 717.5L799.8 717.1L801.5 717.5L803.1 717.0L804.7 717.4L806.4 716.9L808.0 717.5L809.6 716.8L811.3 717.3L812.9 716.9L814.5 717.4L816.2 716.7L817.8 717.3L819.5 716.7L821.1 717.2L822.7 716.8L824.4 717.4L826.0 716.7L827.6 717.6L829.3 717.0L830.9 717.4L832.5 717.0L834.2 717.5L835.8 717.2L837.5 717.6L839.1 717.0L840.7 717.5L842.4 717.1L844.0 717.6L845.6 717.0L847.3 717.4L848.9 716.9L850.5 717.3L852.2 716.8L853.8 717.4L855.5 716.8L857.1 717.4L858.7 716.7L860.4 717.1L862.0 716.9L863.6 717.4L865.3 716.9L866.9 717.7L868.5 717.3L870.2 717.9L871.8 717.5L873.5 718.1L875.1 717.7L876.7 718.3L878.4 718.0L880.0 718.5L881.6 717.9L883.3 718.3L884.9 717.5L886.5 717.9L888.2 717.1L889.8 717.7L891.5 716.9L893.1 717.3L894.7 716.6L896.4 716.9L898.0 716.5L899.6 716.9L901.3 716.6L902.9 717.1L904.5 716.5L906.2 717.1L907.8 716.7L909.5 717.2L911.1 716.8L912.7 717.2L914.4 716.9L916.0 717.3L917.6 717.0L919.3 717.3L920.9 717.0L922.5 717.4L924.2 717.0L925.8 717.5L927.5 717.0L929.1 717.6L930.7 717.0L932.4 717.7L934.0 717.1L935.6 717.7L937.3 717.3L938.9 717.7L940.5 717.1L942.2 717.7L943.8 717.3L945.5 717.6L947.1 717.3L948.7 717.8L950.4 717.1L952.0 717.7L953.6 717.4L955.3 717.8L956.9 717.5L958.5 717.9L960.2 717.4L961.8 717.9L963.5 717.7L965.1 718.0L966.7 717.6L968.4 718.2L970.0 717.6L971.6 718.2L973.3 717.5L974.9 718.0L976.5 717.1L978.2 717.7L979.8 717.1L981.5 717.6L983.1 716.7L984.7 717.4L986.4 716.7L988.0 717.0L989.6 716.5L991.3 717.0L992.9 716.4L994.5 716.9L996.2 716.5L997.8 717.0L999.5 716.6L1001.1 717.1L1002.7 716.6L1004.4 717.2L1006.0 716.8L1007.6 717.4L1009.3 716.8L1010.9 717.4L1012.5 717.0L1014.2 717.4L1015.8 717.0L1017.5 717.5L1019.1 717.2L1020.7 717.6L1022.4 717.1L1024.0 717.6L1025.6 717.2L1027.3 717.7L1028.9 717.2L1030.5 717.7L1032.2 717.1L1033.8 717.7L1035.5 717.2L1037.1 717.8L1038.7 717.2L1040.4 717.6L1042.0 717.2L1043.6 717.6L1045.3 717.0L1046.9 717.4L1048.5 716.9L1050.2 717.2L1051.8 716.6L1053.5 717.0L1055.1 716.4L1056.7 716.9L1058.4 716.4L1060.0 716.9L1061.6 716.4L1063.3 716.9L1064.9 716.4L1066.5 717.0L1068.2 716.6L1069.8 717.1L1071.5 716.4L1073.1 717.1L1074.7 716.4L1076.4 717.1L1078.0 716.5L1079.6 717.2L1081.3 716.6L1082.9 717.4L1084.5 716.6L1086.2 717.3L1087.8 716.5L1089.5 717.5L1091.1 716.5L1092.7 717.2L1094.4 716.8L1096.0 717.4L1097.6 716.6L1099.3 717.5L1100.9 717.0L1102.5 717.4L1104.2 716.9L1105.8 717.4L1107.5 717.1L1109.1 717.4L1110.7 717.1L1112.4 717.7L1114.0 717.1L1115.6 717.6L1117.3 717.1L1118.9 717.6L1120.5 716.9L1122.2 717.4L1123.8 716.9L1125.5 717.4L1127.1 716.8L1128.7 717.3L1130.4 716.7L1132.0 717.1L1133.6 716.5L1135.3 717.0L1136.9 716.5L1138.5 716.9L1140.2 716.4L1141.8 717.1L1143.5 716.4L1145.1 717.0L1146.7 716.8L1148.4 717.2L1150.0 716.8L1151.6 717.4L1153.3 716.7L1154.9 717.5L1156.5 717.0L1158.2 717.4L1159.8 717.0L1161.5 717.7L1163.1 717.2L1164.7 717.6L1166.4 717.2L1168.0 717.5L1169.6 717.0L1171.3 717.6L1172.9 716.9L1174.5 717.5L1176.2 716.9L1177.8 717.4L1179.5 716.8L1181.1 717.5L1182.7 716.7L1184.4 717.5L1186.0 716.8L1187.6 717.5L1189.3 716.5L1190.9 717.5L1192.5 716.8L1194.2 717.4L1195.8 716.9L1197.5 717.3L1199.1 716.9L1200.7 717.5L1202.4 717.0L1204.0 717.6L1205.6 717.2L1207.3 717.7L1208.9 717.2L1210.5 717.6L1212.2 716.9L1213.8 717.3L1215.5 716.8L1217.1 717.2L1218.7 716.7L1220.4 717.1L1222.0 716.7L1223.6 717.0L1225.3 716.5L1226.9 716.9L1228.5 716.3L1230.2 716.9L1231.8 716.4L1233.5 717.1L1235.1 716.6L1236.7 717.1L1238.4 716.7L1240.0 717.1L1241.6 716.6L1243.3 717.3L1244.9 716.8L1246.5 717.3L1248.2 717.0L1249.8 717.4L1251.5 717.1L1253.1 717.5L1254.7 717.0L1256.4 717.6L1258.0 717.2L1259.6 717.9L1261.3 717.1L1262.9 717.6L1264.5 717.2L1266.2 717.6L1267.8 717.1L1269.5 717.6L1271.1 717.0L1272.7 717.7L1274.4 717.2L1276.0 717.7L1277.6 717.0L1279.3 717.7L1280.9 717.1L1282.5 717.8L1284.2 717.3L1285.8 717.6L1287.5 717.2L1289.1 717.6L1290.7 717.3L1292.4 717.8L1294.0 717.3L1295.6 717.7L1297.3 717.1L1298.9 717.6L1300.5 717.1L1302.2 717.7L1303.8 716.9L1305.5 717.9L1307.1 717.2L1308.7 717.6L1310.4 717.0L1312.0 717.6L1313.6 717.2L1315.3 717.9L1316.9 717.1L1318.5 717.9L1320.2 716.8L1321.8 717.9L1323.5 716.9L1325.1 717.7L1326.7 717.2L1328.4 717.7L1330.0 717.2L1331.6 717.7L1333.3 717.1L1334.9 717.9L1336.5 717.1L1338.2 717.7L1339.8 717.1L1341.5 717.9L1343.1 717.2L1344.7 717.6L1346.4 717.1L1348.0 717.6L1349.6 717.1L1351.3 717.7L1352.9 717.0L1354.5 717.6L1356.2 717.2L1357.8 717.6L1359.5 717.2L1361.1 717.8L1362.7 717.1L1364.4 717.5L1366.0 717.1L1367.6 717.7L1369.3 717.2L1370.9 717.6L1372.5 717.1L1374.2 717.7L1375.8 717.1L1377.5 717.7L1379.1 717.2L1380.7 717.7L1382.4 717.1L1384.0 717.6L1385.6 717.2L1387.3 717.7L1388.9 717.2L1390.5 717.5L1392.2 717.1L1393.8 717.6L1395.5 717.0L1397.1 717.6L1398.7 717.2L1400.4 717.6L1402.0 717.2L1403.6 717.5L1405.3 717.2L1406.9 717.6L1408.5 717.0L1410.2 717.6L1411.8 717.2L1413.5 717.7L1415.1 717.2L1416.7 717.8L1418.4 717.0L1420.0 717.6L1421.6 717.0L1423.3 717.8L1424.9 717.2L1426.5 717.7L1428.2 717.2L1429.8 717.6L1431.5 717.2L1433.1 717.6L1434.7 717.1L1436.4 717.6L1438.0 716.9L1439.6 717.6L1441.3 716.9L1442.9 717.8L1444.5 716.9L1446.2 717.6L1447.8 717.0L1449.5 717.8L1451.1 717.0L1452.7 717.6L1454.4 717.1L1456.0 717.5L1457.6 717.1L1459.3 717.6L1460.9 717.0L1462.5 717.7L1464.2 717.2L1465.8 717.6L1467.5 717.2L1469.1 717.8L1470.7 717.1L1472.4 717.8L1474.0 717.0L1475.6 717.6L1477.3 717.1L1478.9 717.9L1480.5 717.2L1482.2 717.8L1483.8 716.9L1485.5 717.7L1487.1 717.1L1488.7 717.6L1490.4 717.1L1492.0 717.8L1493.6 717.0L1495.3 717.7L1496.9 717.0L1498.5 717.8L1500.2 717.1L1501.8 717.9L1503.5 717.1L1505.1 717.7L1506.7 717.2L1508.4 717.7L1510.0 717.0L1511.6 717.9L1513.3 717.1L1514.9 717.8L1516.5 717.1L1518.2 717.6L1519.8 717.1L1521.5 717.7L1523.1 717.2L1524.7 717.7L1526.4 717.1L1528.0 717.7L1529.6 717.2L1531.3 717.7L1532.9 717.3L1534.5 717.5L1536.2 717.2L1537.8 717.7L1539.5 717.1L1541.1 717.7L1542.7 717.1L1544.4 717.6L1546.0 717.1L1547.6 717.7L1549.3 717.1L1550.9 717.6L1552.5 717.1L1554.2 717.7L1555.8 717.2L1557.5 717.9L1559.1 717.0L1560.7 717.7L1562.4 717.2L1564.0 717.5L1565.6 717.1L1567.3 717.7L1568.9 717.1L1570.5 717.7L1572.2 717.2L1573.8 717.7L1575.5 717.1L1577.1 717.6L1578.7 717.1L1580.4 717.6L1582.0 717.2L1583.6 717.6L1585.3 717.1L1586.9 717.5L1588.5 717.1L1590.2 717.8L1591.8 717.2L1593.5 717.7L1595.1 717.1L1596.7 717.6L1598.4 717.3L1600.0 717.6L1601.6 717.2L1603.3 717.7L1604.9 717.1L1606.5 717.7L1608.2 717.0L1609.8 717.6L1611.5 717.1L1613.1 717.6L1614.7 717.1L1616.4 717.7L1618.0 717.1L1619.6 717.8L1621.3 717.2L1622.9 717.7L1624.5 717.2L1626.2 717.6L1627.8 717.2L1629.5 717.8L1631.1 717.1L1632.7 717.7L1634.4 717.2L1636.0 717.6L1637.6 717.1L1639.3 717.8L1640.9 717.0L1642.5 717.7L1644.2 717.0L1645.8 717.7L1647.5 717.2L1649.1 717.8L1650.7 717.3L1652.4 717.7L1654.0 717.1L1655.6 717.7L1657.3 717.3L1658.9 717.6L1660.5 717.2L1662.2 717.9L1663.8 717.1L1665.5 717.6L1667.1 717.1L1668.7 717.7L1670.4 717.1L1672.0 717.7L1673.6 717.2L1675.3 717.7L1676.9 717.2L1678.5 717.7L1680.2 717.2L1681.8 717.6L1683.5 717.3L1685.1 717.7L1686.7 717.3L1688.4 717.8L1690.0 717.1L1691.6 717.6L1693.3 717.3L1694.9 717.6L1696.5 717.1L1698.2 717.6L1699.8 717.2L1701.5 717.6L1703.1 717.2L1704.7 717.7L1706.4 717.2L1708.0 717.5L1709.6 717.1L1711.3 717.6L1712.9 717.2L1714.5 717.7L1716.2 717.3L1717.8 717.7L1719.5 717.1L1721.1 717.9L1722.7 717.1L1724.4 717.8L1726.0 717.0L1727.6 717.7L1729.3 717.1L1730.9 717.6L1732.5 717.1L1734.2 717.7L1735.8 717.3L1737.5 717.6L1739.1 717.1L1740.7 717.7L1742.4 717.2L1744.0 717.6L1745.6 717.2L1747.3 717.5L1748.9 717.2L1750.5 717.7L1752.2 717.2L1753.8 717.5L1755.5 717.2L1757.1 717.6L1758.7 717.2L1760.4 717.7L1762.0 717.2L1763.6 717.7L1765.3 717.1L1766.9 717.7L1768.5 717.2L1770.2 717.8L1771.8 717.1L1773.5 717.5L1775.1 717.2L1776.7 717.8L1778.4 717.1L1780.0 717.6L1781.6 717.2L1783.3 717.7L1784.9 717.1L1786.5 717.8L1788.2 717.2L1789.8 717.7L1791.5 717.3L1793.1 717.7L1794.7 717.1L1796.4 717.5L1798.0 717.1L1799.6 717.6L1801.3 717.1L1802.9 717.7L1804.5 717.1L1806.2 717.7L1807.8 717.1L1809.5 717.7L1811.1 716.9L1812.7 717.6L1814.4 717.1L1816.0 717.6L1817.6 717.1L1819.3 717.6L1820.9 717.0L1822.5 717.6L1824.2 717.1L1825.8 717.6L1827.5 717.2L1829.1 717.6L1830.7 717.2L1832.4 717.8L1834.0 717.1L1835.6 717.6L1837.3 717.2L1838.9 717.8L1840.5 717.0L1842.2 717.7L1843.8 717.0L1845.5 717.6L1847.1 717.2L1848.7 717.6L1850.4 717.1L1852.0 717.6L1853.6 717.1L1855.3 717.8L1856.9 717.2L1858.5 717.5L1860.2 717.1L1861.8 717.6L1863.5 717.2L1865.1 717.6L1866.7 717.1L1868.4 717.6L1870.0 717.1L1871.6 717.6L1873.3 717.1L1874.9 717.9L1876.5 717.1L1878.2 717.9L1879.8 717.2L1881.5 717.7L1883.1 716.9L1884.1 717.5" fill="none" stroke="#ed2728" stroke-width="7.5" stroke-linejoin="round" stroke-linecap="butt"/>
<g fill="#ed2728" fill-rule="evenodd"><path d="M305.50 442.00L325.00 467.00L305.50 492.00L286.00 467.00ZM305.50 453.90L315.60 467.00L305.50 480.10L295.40 467.00Z"/><path d="M407.77 691.90L427.27 716.90L407.77 741.90L388.27 716.90ZM407.77 703.80L417.87 716.90L407.77 730.00L397.67 716.90Z"/><path d="M510.04 691.90L529.54 716.90L510.04 741.90L490.54 716.90ZM510.04 703.80L520.14 716.90L510.04 730.00L499.94 716.90Z"/><path d="M612.31 691.90L631.81 716.90L612.31 741.90L592.81 716.90ZM612.31 703.80L622.41 716.90L612.31 730.00L602.21 716.90Z"/><path d="M714.58 691.90L734.08 716.90L714.58 741.90L695.08 716.90ZM714.58 703.80L724.68 716.90L714.58 730.00L704.48 716.90Z"/><path d="M816.85 691.90L836.35 716.90L816.85 741.90L797.35 716.90ZM816.85 703.80L826.95 716.90L816.85 730.00L806.75 716.90Z"/><path d="M919.12 691.90L938.62 716.90L919.12 741.90L899.62 716.90ZM919.12 703.80L929.22 716.90L919.12 730.00L909.02 716.90Z"/><path d="M1021.39 691.90L1040.89 716.90L1021.39 741.90L1001.89 716.90ZM1021.39 703.80L1031.49 716.90L1021.39 730.00L1011.29 716.90Z"/><path d="M1123.66 691.90L1143.16 716.90L1123.66 741.90L1104.16 716.90ZM1123.66 703.80L1133.76 716.90L1123.66 730.00L1113.56 716.90Z"/><path d="M1225.93 691.90L1245.43 716.90L1225.93 741.90L1206.43 716.90ZM1225.93 703.80L1236.03 716.90L1225.93 730.00L1215.83 716.90Z"/><path d="M1328.20 691.90L1347.70 716.90L1328.20 741.90L1308.70 716.90ZM1328.20 703.80L1338.30 716.90L1328.20 730.00L1318.10 716.90Z"/><path d="M1430.47 691.90L1449.97 716.90L1430.47 741.90L1410.97 716.90ZM1430.47 703.80L1440.57 716.90L1430.47 730.00L1420.37 716.90Z"/><path d="M1532.74 691.90L1552.24 716.90L1532.74 741.90L1513.24 716.90ZM1532.74 703.80L1542.84 716.90L1532.74 730.00L1522.64 716.90Z"/><path d="M1635.01 691.90L1654.51 716.90L1635.01 741.90L1615.51 716.90ZM1635.01 703.80L1645.11 716.90L1635.01 730.00L1624.91 716.90Z"/><path d="M1737.28 691.90L1756.78 716.90L1737.28 741.90L1717.78 716.90ZM1737.28 703.80L1747.38 716.90L1737.28 730.00L1727.18 716.90Z"/><path d="M1839.55 691.90L1859.05 716.90L1839.55 741.90L1820.05 716.90ZM1839.55 703.80L1849.65 716.90L1839.55 730.00L1829.45 716.90Z"/><path d="M1941.82 691.90L1961.32 716.90L1941.82 741.90L1922.32 716.90ZM1941.82 703.80L1951.92 716.90L1941.82 730.00L1931.72 716.90Z"/><path d="M2044.09 691.90L2063.59 716.90L2044.09 741.90L2024.59 716.90ZM2044.09 703.80L2054.19 716.90L2044.09 730.00L2033.99 716.90Z"/></g>
<path transform="scale(1.1 1)" d="M245.5 320.0L249.1 317.0L252.7 315.9L255.9 322.0L258.7 339.3L264.4 378.9L269.1 418.5L272.4 458.0L276.5 499.6L281.1 539.1L286.0 578.7L290.4 618.2L293.0 639.0L295.7 659.6L301.0 699.1L305.7 738.7L310.3 780.0L316.5 819.6L323.4 859.1L330.6 898.7L337.1 938.2L345.5 979.6L352.9 1019.1L359.1 1058.7L366.7 1098.2L375.6 1139.6L381.9 1179.1L386.0 1194.0L390.9 1205.0L398.1 1218.0L403.5 1231.5L410.7 1238.5L421.5 1243.4L436.4 1246.5L440.9 1246.6L442.5 1246.6L444.2 1246.8L445.8 1246.6L447.5 1246.9L449.1 1246.7L450.7 1247.1L452.4 1246.8L454.0 1247.4L455.6 1246.7L457.3 1247.4L458.9 1246.7L460.5 1247.5L462.2 1246.8L463.8 1248.3L465.5 1246.6L467.1 1248.4L468.7 1246.8L470.4 1248.1L472.0 1247.2L473.6 1248.2L475.3 1247.0L476.9 1248.1L478.5 1246.9L480.2 1248.3L481.8 1246.6L483.5 1248.4L485.1 1246.9L486.7 1248.5L488.4 1246.4L490.0 1247.9L491.6 1246.2L493.3 1247.5L494.9 1245.8L496.5 1247.8L498.2 1246.4L499.8 1247.5L501.5 1246.3L503.1 1247.0L504.7 1246.0L506.4 1247.6L508.0 1245.3L509.6 1246.7L511.3 1245.9L512.9 1246.7L514.5 1245.9L516.2 1246.8L517.8 1245.6L519.5 1246.6L521.1 1245.8L522.7 1246.8L524.4 1245.7L526.0 1246.8L527.6 1245.5L529.3 1246.6L530.9 1245.6L532.5 1246.5L534.2 1245.6L535.8 1246.6L537.5 1245.9L539.1 1246.7L540.7 1245.8L542.4 1246.9L544.0 1246.0L545.6 1246.9L547.3 1245.8L548.9 1246.6L550.5 1245.9L552.2 1246.7L553.8 1245.8L555.5 1246.5L557.1 1245.8L558.7 1246.6L560.4 1245.9L562.0 1246.7L563.6 1246.1L565.3 1246.8L566.9 1246.1L568.5 1246.9L570.2 1246.1L571.8 1247.3L573.5 1246.5L575.1 1247.2L576.7 1246.2L578.4 1247.4L580.0 1246.5L581.6 1247.6L583.3 1246.7L584.9 1247.5L586.5 1246.5L588.2 1247.4L589.8 1246.5L591.5 1247.5L593.1 1246.1L594.7 1247.5L596.4 1246.3L598.0 1247.6L599.6 1246.0L601.3 1247.2L602.9 1246.3L604.5 1247.0L606.2 1246.2L607.8 1247.3L609.5 1245.5L611.1 1247.3L612.7 1245.6L614.4 1246.9L616.0 1246.0L617.6 1247.4L619.3 1246.3L620.9 1247.5L622.5 1246.3L624.2 1247.3L625.8 1246.6L627.5 1247.8L629.1 1246.7L630.7 1247.7L632.4 1246.7L634.0 1247.9L635.6 1247.1L637.3 1248.1L638.9 1247.4L640.5 1247.9L642.2 1247.2L643.8 1248.2L645.5 1247.0L647.1 1248.0L648.7 1246.9L650.4 1248.0L652.0 1247.0L653.6 1248.3L655.3 1247.0L656.9 1248.0L658.5 1246.7L660.2 1248.1L661.8 1246.9L663.5 1248.0L665.1 1246.9L666.7 1248.1L668.4 1247.1L670.0 1248.1L671.6 1247.0L673.3 1248.4L674.9 1247.3L676.5 1248.3L678.2 1247.4L679.8 1248.6L681.5 1247.3L683.1 1248.5L684.7 1247.6L686.4 1248.6L688.0 1247.8L689.6 1248.5L691.3 1248.0L692.9 1248.7L694.5 1247.7L696.2 1249.3L697.8 1247.6L699.5 1248.8L701.1 1248.1L702.7 1248.8L704.4 1247.9L706.0 1249.1L707.6 1247.8L709.3 1248.8L710.9 1247.9L712.5 1248.6L714.2 1247.6L715.8 1248.2L717.5 1247.2L719.1 1248.1L720.7 1247.0L722.4 1247.6L724.0 1246.6L725.6 1247.6L727.3 1246.3L728.9 1247.2L730.5 1246.1L732.2 1247.1L733.8 1245.8L735.5 1246.8L737.1 1246.0L738.7 1246.9L740.4 1246.0L742.0 1247.2L743.6 1246.0L745.3 1247.1L746.9 1246.4L748.5 1247.2L750.2 1246.3L751.8 1247.6L753.5 1245.8L755.1 1247.5L756.7 1245.9L758.4 1247.4L760.0 1246.1L761.6 1247.1L763.3 1246.1L764.9 1247.0L766.5 1246.2L768.2 1247.3L769.8 1246.3L771.5 1247.0L773.1 1246.1L774.7 1247.2L776.4 1246.0L778.0 1247.1L779.6 1246.3L781.3 1247.3L782.9 1246.1L784.5 1247.2L786.2 1246.0L787.8 1247.3L789.5 1246.0L791.1 1247.3L792.7 1246.5L794.4 1247.6L796.0 1246.1L797.6 1247.4L799.3 1246.7L800.9 1247.8L802.5 1246.7L804.2 1247.9L805.8 1246.8L807.5 1248.0L809.1 1247.2L810.7 1248.0L812.4 1247.0L814.0 1248.0L815.6 1247.0L817.3 1248.2L818.9 1247.3L820.5 1248.0L822.2 1246.9L823.8 1248.1L825.5 1247.0L827.1 1247.9L828.7 1247.0L830.4 1247.9L832.0 1247.0L833.6 1247.8L835.3 1247.1L836.9 1247.8L838.5 1246.8L840.2 1247.6L841.8 1246.4L843.5 1247.6L845.1 1246.5L846.7 1247.1L848.4 1246.1L850.0 1246.9L851.6 1245.7L853.3 1246.9L854.9 1246.0L856.5 1246.7L858.2 1246.1L859.8 1247.0L861.5 1246.5L863.1 1247.5L864.7 1246.5L866.4 1247.7L868.0 1246.4L869.6 1247.9L871.3 1246.8L872.9 1248.4L874.5 1247.1L876.2 1248.2L877.8 1247.1L879.5 1248.0L881.1 1247.0L882.7 1247.9L884.4 1246.8L886.0 1247.7L887.6 1246.6L889.3 1247.6L890.9 1246.9L892.5 1247.7L894.2 1246.4L895.8 1247.3L897.5 1246.4L899.1 1247.6L900.7 1246.3L902.4 1247.9L904.0 1246.2L905.6 1247.7L907.3 1246.6L908.9 1247.3L910.5 1246.6L912.2 1247.5L913.8 1246.5L915.5 1247.5L917.1 1246.7L918.7 1247.7L920.4 1246.7L922.0 1247.6L923.6 1246.8L925.3 1247.5L926.9 1246.9L928.5 1247.5L930.2 1246.9L931.8 1247.7L933.5 1247.0L935.1 1248.2L936.7 1247.1L938.4 1248.3L940.0 1247.3L941.6 1248.3L943.3 1246.6L944.9 1248.3L946.5 1247.4L948.2 1248.5L949.8 1247.6L951.5 1248.5L953.1 1247.3L954.7 1248.2L956.4 1247.3L958.0 1248.1L959.6 1247.3L961.3 1248.1L962.9 1247.2L964.5 1247.7L966.2 1247.0L967.8 1248.0L969.5 1246.8L971.1 1247.5L972.7 1246.3L974.4 1247.3L976.0 1246.3L977.6 1247.2L979.3 1246.0L980.9 1247.1L982.5 1246.2L984.2 1247.1L985.8 1246.1L987.5 1247.5L989.1 1246.3L990.7 1247.4L992.4 1246.3L994.0 1247.4L995.6 1246.3L997.3 1247.7L998.9 1246.7L1000.5 1247.5L1002.2 1246.4L1003.8 1247.7L1005.5 1246.5L1007.1 1248.1L1008.7 1246.7L1010.4 1248.3L1012.0 1246.8L1013.6 1247.9L1015.3 1247.1L1016.9 1247.9L1018.5 1246.9L1020.2 1247.8L1021.8 1247.0L1023.5 1247.8L1025.1 1246.9L1026.7 1248.2L1028.4 1246.9L1030.0 1248.4L1031.6 1247.3L1033.3 1248.1L1034.9 1247.4L1036.5 1248.6L1038.2 1246.9L1039.8 1248.5L1041.5 1246.8L1043.1 1248.7L1044.7 1247.1L1046.4 1248.7L1048.0 1247.6L1049.6 1248.6L1051.3 1247.8L1052.9 1248.5L1054.5 1247.9L1056.2 1248.6L1057.8 1247.7L1059.5 1248.7L1061.1 1247.9L1062.7 1248.8L1064.4 1248.0L1066.0 1248.6L1067.6 1247.9L1069.3 1248.7L1070.9 1247.1L1072.5 1248.7L1074.2 1247.2L1075.8 1248.6L1077.5 1246.7L1079.1 1248.1L1080.7 1246.0L1082.4 1248.3L1084.0 1246.7L1085.6 1247.6L1087.3 1246.3L1088.9 1247.6L1090.5 1246.5L1092.2 1247.4L1093.8 1246.5L1095.5 1247.2L1097.1 1246.5L1098.7 1247.5L1100.4 1246.0L1102.0 1247.3L1103.6 1246.4L1105.3 1247.1L1106.9 1246.2L1108.5 1247.2L1110.2 1246.1L1111.8 1247.0L1113.5 1246.1L1115.1 1246.7L1116.7 1246.0L1118.4 1246.7L1120.0 1246.0L1121.6 1246.9L1123.3 1245.8L1124.9 1246.7L1126.5 1246.1L1128.2 1246.7L1129.8 1245.8L1131.5 1246.8L1133.1 1245.5L1134.7 1246.7L1136.4 1245.6L1138.0 1247.0L1139.6 1245.5L1141.3 1246.6L1142.9 1245.7L1144.5 1247.1L1146.2 1246.2L1147.8 1246.9L1149.5 1246.0L1151.1 1247.2L1152.7 1246.2L1154.4 1247.6L1156.0 1246.6L1157.6 1247.5L1159.3 1246.6L1160.9 1247.8L1162.5 1247.1L1164.2 1248.1L1165.8 1247.3L1167.5 1248.3L1169.1 1247.2L1170.7 1248.8L1172.4 1247.6L1174.0 1248.6L1175.6 1247.5L1177.3 1248.9L1178.9 1247.5L1180.5 1248.5L1182.2 1247.3L1183.8 1248.5L1185.5 1247.6L1187.1 1248.9L1188.7 1247.7L1190.4 1249.0L1192.0 1247.6L1193.6 1248.5L1195.3 1247.6L1196.9 1248.6L1198.5 1247.9L1200.2 1248.8L1201.8 1247.6L1203.5 1248.3L1205.1 1247.5L1206.7 1248.4L1208.4 1247.6L1210.0 1248.3L1211.6 1247.1L1213.3 1248.8L1214.9 1246.9L1216.5 1248.6L1218.2 1247.4L1219.8 1248.2L1221.5 1246.9L1223.1 1248.0L1224.7 1247.3L1226.4 1248.0L1228.0 1247.0L1229.6 1248.0L1231.3 1247.3L1232.9 1248.5L1234.5 1247.1L1236.2 1248.4L1237.8 1247.3L1239.5 1248.2L1241.1 1247.0L1242.7 1247.8L1244.4 1246.9L1246.0 1248.0L1247.6 1247.0L1249.3 1248.0L1250.9 1247.2L1252.5 1248.2L1254.2 1247.2L1255.8 1248.5L1257.5 1247.3L1259.1 1248.0L1260.7 1247.3L1262.4 1248.2L1264.0 1247.2L1265.6 1248.7L1267.3 1247.3L1268.9 1248.4L1270.5 1247.4L1272.2 1248.6L1273.8 1247.6L1275.5 1248.4L1277.1 1247.6L1278.7 1248.7L1280.4 1247.2L1282.0 1248.7L1283.6 1247.6L1285.3 1248.4L1286.9 1247.3L1288.5 1248.4L1290.2 1247.3L1291.8 1248.3L1293.5 1247.1L1295.1 1248.1L1296.7 1247.1L1298.4 1248.1L1300.0 1246.8L1301.6 1248.2L1303.3 1247.0L1304.9 1248.1L1306.5 1246.6L1308.2 1247.7L1309.8 1246.7L1311.5 1247.6L1313.1 1246.5L1314.7 1247.4L1316.4 1246.6L1318.0 1247.3L1319.6 1246.4L1321.3 1247.2L1322.9 1246.0L1324.5 1247.4L1326.2 1246.1L1327.8 1247.1L1329.5 1246.3L1331.1 1247.1L1332.7 1245.7L1334.4 1246.8L1336.0 1245.7L1337.6 1246.6L1339.3 1246.0L1340.9 1246.7L1342.5 1246.0L1344.2 1246.9L1345.8 1246.0L1347.5 1246.9L1349.1 1246.0L1350.7 1247.2L1352.4 1246.1L1354.0 1247.1L1355.6 1246.6L1357.3 1247.7L1358.9 1246.8L1360.5 1247.8L1362.2 1246.9L1363.8 1248.0L1365.5 1246.5L1367.1 1248.2L1368.7 1247.1L1370.4 1248.6L1372.0 1247.2L1373.6 1248.3L1375.3 1247.4L1376.9 1248.5L1378.5 1247.1L1380.2 1248.3L1381.8 1247.1L1383.5 1248.3L1385.1 1247.6L1386.7 1248.2L1388.4 1247.1L1390.0 1248.7L1391.6 1247.6L1393.3 1248.3L1394.9 1247.6L1396.5 1248.5L1398.2 1247.2L1399.8 1248.3L1401.5 1247.6L1403.1 1248.5L1404.7 1247.3L1406.4 1248.5L1408.0 1247.3L1409.6 1248.4L1411.3 1247.4L1412.9 1248.3L1414.5 1247.0L1416.2 1248.2L1417.8 1246.9L1419.5 1247.7L1421.1 1246.7L1422.7 1247.8L1424.4 1246.5L1426.0 1247.5L1427.6 1246.4L1429.3 1247.6L1430.9 1246.7L1432.5 1247.3L1434.2 1246.3L1435.8 1247.2L1437.5 1246.3L1439.1 1247.4L1440.7 1246.2L1442.4 1247.2L1444.0 1246.3L1445.6 1247.0L1447.3 1245.9L1448.9 1246.9L1450.5 1245.5L1452.2 1246.9L1453.8 1245.7L1455.5 1246.7L1457.1 1245.6L1458.7 1246.7L1460.4 1245.8L1462.0 1246.7L1463.6 1245.6L1465.3 1246.8L1466.9 1245.7L1468.5 1246.7L1470.2 1245.7L1471.8 1247.1L1473.5 1245.9L1475.1 1247.4L1476.7 1245.8L1478.4 1246.8L1480.0 1245.9L1481.6 1246.8L1483.3 1246.1L1484.9 1246.8L1486.5 1246.1L1488.2 1247.0L1489.8 1246.1L1491.5 1247.1L1493.1 1245.5L1494.7 1246.9L1496.4 1245.9L1498.0 1247.1L1499.6 1245.7L1501.3 1246.8L1502.9 1245.7L1504.5 1247.0L1506.2 1245.8L1507.8 1246.7L1509.5 1245.9L1511.1 1246.8L1512.7 1246.0L1514.4 1246.8L1516.0 1245.7L1517.6 1247.0L1519.3 1245.8L1520.9 1246.6L1522.5 1245.8L1524.2 1246.7L1525.8 1245.8L1527.5 1246.8L1529.1 1246.0L1530.7 1247.0L1532.4 1246.0L1534.0 1246.9L1535.6 1246.1L1537.3 1246.8L1538.9 1246.1L1540.5 1247.3L1542.2 1246.3L1543.8 1247.0L1545.5 1246.2L1547.1 1247.0L1548.7 1246.5L1550.4 1247.2L1552.0 1246.4L1553.6 1247.6L1555.3 1246.5L1556.9 1247.5L1558.5 1246.4L1560.2 1247.4L1561.8 1246.6L1563.5 1247.3L1565.1 1246.5L1566.7 1247.1L1568.4 1246.4L1570.0 1247.1L1571.6 1246.2L1573.3 1247.2L1574.9 1246.2L1576.5 1246.8L1578.2 1246.1L1579.8 1247.1L1581.5 1246.0L1583.1 1246.7L1584.7 1246.0L1586.4 1247.0L1588.0 1245.9L1589.6 1246.7L1591.3 1246.0L1592.9 1246.9L1594.5 1245.8L1596.2 1247.3L1597.8 1246.0L1599.5 1247.4L1601.1 1246.3L1602.7 1247.7L1604.4 1245.8L1606.0 1248.3L1607.6 1246.6L1609.3 1248.0L1610.9 1246.6L1612.5 1247.7L1614.2 1246.8L1615.8 1247.7L1617.5 1246.9L1619.1 1247.9L1620.7 1247.1L1622.4 1248.0L1624.0 1247.4L1625.6 1248.1L1627.3 1247.2L1628.9 1248.2L1630.5 1247.1L1632.2 1248.2L1633.8 1247.4L1635.5 1248.2L1637.1 1247.3L1638.7 1248.3L1640.4 1247.5L1642.0 1248.4L1643.6 1247.4L1645.3 1248.5L1646.9 1247.2L1648.5 1248.5L1650.2 1247.6L1651.8 1248.3L1653.5 1247.2L1655.1 1248.5L1656.7 1246.9L1658.4 1248.2L1660.0 1247.1L1661.6 1248.1L1663.3 1246.8L1664.9 1247.8L1666.5 1246.8L1668.2 1248.0L1669.8 1246.7L1671.5 1247.5L1673.1 1246.4L1674.7 1247.7L1676.4 1246.5L1678.0 1247.2L1679.6 1246.4L1681.3 1247.2L1682.9 1246.3L1684.5 1247.4L1686.2 1246.4L1687.8 1247.2L1689.5 1246.2L1691.1 1247.2L1692.7 1246.5L1694.4 1247.3L1696.0 1246.5L1697.6 1247.4L1699.3 1246.5L1700.9 1247.5L1702.5 1246.3L1704.2 1247.3L1705.8 1246.6L1707.5 1247.6L1709.1 1246.4L1710.7 1247.5L1712.4 1246.9L1714.0 1247.7L1715.6 1246.6L1717.3 1248.0L1718.9 1247.0L1720.5 1248.3L1722.2 1247.1L1723.8 1248.2L1725.5 1247.4L1727.1 1248.1L1728.7 1247.5L1730.4 1248.4L1732.0 1247.5L1733.6 1248.6L1735.3 1247.7L1736.9 1249.0L1738.5 1247.6L1740.2 1248.7L1741.8 1247.5L1743.5 1248.7L1745.1 1247.2L1746.7 1248.3L1748.4 1247.3L1750.0 1248.1L1751.6 1246.8L1753.3 1247.9L1754.9 1246.1L1756.5 1247.8L1758.2 1245.7L1759.8 1247.0L1761.5 1245.6L1763.1 1247.4L1764.7 1246.3L1766.4 1246.9L1768.0 1246.2L1769.6 1247.2L1771.3 1245.9L1772.9 1247.3L1774.5 1245.9L1776.2 1246.9L1777.8 1246.2L1779.5 1246.9L1781.1 1246.1L1782.7 1247.2L1784.4 1246.4L1786.0 1247.4L1787.6 1246.2L1789.3 1247.2L1790.9 1246.5L1792.5 1247.5L1794.2 1246.7L1795.8 1247.8L1797.5 1246.5L1799.1 1247.9L1800.7 1246.5L1802.4 1247.7L1804.0 1246.8L1805.6 1247.8L1807.3 1247.0L1808.9 1247.8L1810.5 1246.8L1812.2 1247.4L1813.8 1246.5L1815.5 1247.4L1817.1 1246.3L1818.7 1247.1L1820.4 1246.1L1822.0 1247.2L1823.6 1246.0L1825.3 1246.9L1826.9 1245.7L1828.5 1246.6L1830.2 1245.7L1831.8 1246.7L1833.5 1245.9L1835.1 1247.0L1836.7 1245.9L1838.4 1246.8L1840.0 1245.9L1841.6 1246.9L1843.3 1246.0L1844.9 1247.2L1846.5 1246.2L1848.2 1247.3L1849.8 1246.4L1851.5 1247.2L1853.1 1246.6L1854.7 1247.6L1856.4 1246.7L1858.0 1247.7L1859.6 1247.1L1861.3 1247.7L1862.9 1247.1L1864.5 1247.8L1866.2 1247.3L1867.8 1248.2L1869.5 1247.1L1871.1 1248.2L1872.7 1247.6L1874.4 1248.4L1876.0 1247.8L1877.6 1248.9L1879.3 1247.9L1880.9 1249.0L1882.5 1247.3L1884.1 1247.3" fill="none" stroke="#6cbd45" stroke-width="7.5" stroke-linejoin="round" stroke-linecap="butt"/>
<g fill="#6cbd45" fill-rule="evenodd"><path d="M302.50 640.00A18.90 18.30 0 1 0 340.30 640.00A18.90 18.30 0 1 0 302.50 640.00ZM310.40 640.00A11.00 10.50 0 1 0 332.40 640.00A11.00 10.50 0 1 0 310.40 640.00Z"/><path d="M404.77 1191.80A18.90 18.30 0 1 0 442.57 1191.80A18.90 18.30 0 1 0 404.77 1191.80ZM412.67 1191.80A11.00 10.50 0 1 0 434.67 1191.80A11.00 10.50 0 1 0 412.67 1191.80Z"/><path d="M507.04 1247.53A18.90 18.30 0 1 0 544.84 1247.53A18.90 18.30 0 1 0 507.04 1247.53ZM514.94 1247.53A11.00 10.50 0 1 0 536.94 1247.53A11.00 10.50 0 1 0 514.94 1247.53Z"/><path d="M609.31 1246.67A18.90 18.30 0 1 0 647.11 1246.67A18.90 18.30 0 1 0 609.31 1246.67ZM617.21 1246.67A11.00 10.50 0 1 0 639.21 1246.67A11.00 10.50 0 1 0 617.21 1246.67Z"/><path d="M711.58 1247.50A18.90 18.30 0 1 0 749.38 1247.50A18.90 18.30 0 1 0 711.58 1247.50ZM719.48 1247.50A11.00 10.50 0 1 0 741.48 1247.50A11.00 10.50 0 1 0 719.48 1247.50Z"/><path d="M813.85 1246.79A18.90 18.30 0 1 0 851.65 1246.79A18.90 18.30 0 1 0 813.85 1246.79ZM821.75 1246.79A11.00 10.50 0 1 0 843.75 1246.79A11.00 10.50 0 1 0 821.75 1246.79Z"/><path d="M916.12 1246.52A18.90 18.30 0 1 0 953.92 1246.52A18.90 18.30 0 1 0 916.12 1246.52ZM924.02 1246.52A11.00 10.50 0 1 0 946.02 1246.52A11.00 10.50 0 1 0 924.02 1246.52Z"/><path d="M1018.39 1247.75A18.90 18.30 0 1 0 1056.19 1247.75A18.90 18.30 0 1 0 1018.39 1247.75ZM1026.29 1247.75A11.00 10.50 0 1 0 1048.29 1247.75A11.00 10.50 0 1 0 1026.29 1247.75Z"/><path d="M1120.66 1247.76A18.90 18.30 0 1 0 1158.46 1247.76A18.90 18.30 0 1 0 1120.66 1247.76ZM1128.56 1247.76A11.00 10.50 0 1 0 1150.56 1247.76A11.00 10.50 0 1 0 1128.56 1247.76Z"/><path d="M1222.93 1246.32A18.90 18.30 0 1 0 1260.73 1246.32A18.90 18.30 0 1 0 1222.93 1246.32ZM1230.83 1246.32A11.00 10.50 0 1 0 1252.83 1246.32A11.00 10.50 0 1 0 1230.83 1246.32Z"/><path d="M1325.20 1247.76A18.90 18.30 0 1 0 1363.00 1247.76A18.90 18.30 0 1 0 1325.20 1247.76ZM1333.10 1247.76A11.00 10.50 0 1 0 1355.10 1247.76A11.00 10.50 0 1 0 1333.10 1247.76Z"/><path d="M1427.47 1247.07A18.90 18.30 0 1 0 1465.27 1247.07A18.90 18.30 0 1 0 1427.47 1247.07ZM1435.37 1247.07A11.00 10.50 0 1 0 1457.37 1247.07A11.00 10.50 0 1 0 1435.37 1247.07Z"/><path d="M1529.74 1247.99A18.90 18.30 0 1 0 1567.54 1247.99A18.90 18.30 0 1 0 1529.74 1247.99ZM1537.64 1247.99A11.00 10.50 0 1 0 1559.64 1247.99A11.00 10.50 0 1 0 1537.64 1247.99Z"/><path d="M1632.01 1246.26A18.90 18.30 0 1 0 1669.81 1246.26A18.90 18.30 0 1 0 1632.01 1246.26ZM1639.91 1246.26A11.00 10.50 0 1 0 1661.91 1246.26A11.00 10.50 0 1 0 1639.91 1246.26Z"/><path d="M1734.28 1246.51A18.90 18.30 0 1 0 1772.08 1246.51A18.90 18.30 0 1 0 1734.28 1246.51ZM1742.18 1246.51A11.00 10.50 0 1 0 1764.18 1246.51A11.00 10.50 0 1 0 1742.18 1246.51Z"/><path d="M1836.55 1246.81A18.90 18.30 0 1 0 1874.35 1246.81A18.90 18.30 0 1 0 1836.55 1246.81ZM1844.45 1246.81A11.00 10.50 0 1 0 1866.45 1246.81A11.00 10.50 0 1 0 1844.45 1246.81Z"/><path d="M1938.82 1246.65A18.90 18.30 0 1 0 1976.62 1246.65A18.90 18.30 0 1 0 1938.82 1246.65ZM1946.72 1246.65A11.00 10.50 0 1 0 1968.72 1246.65A11.00 10.50 0 1 0 1946.72 1246.65Z"/><path d="M2041.09 1247.96A18.90 18.30 0 1 0 2078.89 1247.96A18.90 18.30 0 1 0 2041.09 1247.96ZM2048.99 1247.96A11.00 10.50 0 1 0 2070.99 1247.96A11.00 10.50 0 1 0 2048.99 1247.96Z"/></g>
<path transform="scale(1.1 1)" d="M245.5 320.0L249.1 317.0L252.7 315.9L255.9 322.0L258.9 339.3L264.5 378.9L269.3 418.5L272.5 458.0L276.7 499.6L281.3 539.1L286.2 578.7L290.5 618.2L295.9 659.6L301.2 699.1L305.9 738.7L310.5 780.0L316.7 819.6L323.5 859.1L330.8 898.7L337.1 938.2L345.1 979.6L351.8 1019.1L356.8 1058.7L362.6 1098.2L368.5 1139.6L374.7 1179.1L380.1 1218.7L385.0 1258.2L390.0 1299.6L394.9 1339.1L399.0 1378.7L402.5 1408.4L406.4 1438.0L411.1 1459.6L419.2 1499.1L422.8 1518.9L426.4 1528.8L427.3 1529.6L428.9 1531.0L430.5 1532.9L432.2 1533.7L433.8 1537.0L435.5 1538.6L437.1 1542.1L438.7 1542.7L440.4 1548.4L442.0 1544.2L443.6 1543.1L445.3 1536.4L446.9 1536.3L448.5 1534.1L450.2 1540.3L451.8 1539.6L453.5 1539.7L455.1 1525.2L456.7 1529.3L458.4 1521.3L460.0 1527.6L461.6 1521.4L463.3 1526.2L464.9 1523.2L466.5 1527.7L468.2 1523.8L469.8 1527.9L471.5 1525.3L473.1 1530.6L474.7 1529.3L476.4 1535.8L478.0 1536.3L479.6 1545.4L481.3 1546.1L482.9 1551.1L484.5 1548.9L486.2 1553.6L487.8 1548.6L489.5 1554.3L491.1 1549.0L492.7 1553.0L494.4 1549.0L496.0 1553.0L497.6 1547.6L499.3 1550.5L500.9 1547.3L502.5 1550.7L504.2 1546.1L505.8 1548.2L507.5 1543.9L509.1 1546.5L510.7 1542.7L512.4 1544.8L514.0 1541.2L515.6 1546.0L517.3 1543.7L518.9 1552.4L520.5 1546.8L522.2 1553.8L523.8 1543.9L525.5 1542.6L527.1 1535.8L528.7 1542.0L530.4 1535.3L532.0 1539.5L533.6 1534.9L535.3 1541.1L536.9 1534.5L538.5 1538.8L540.2 1532.6L541.8 1535.1L543.5 1529.3L545.1 1531.7L546.7 1528.6L548.4 1537.0L550.0 1535.1L551.6 1542.9L553.3 1541.1L554.9 1546.9L556.5 1538.7L558.2 1541.1L559.8 1533.1L561.5 1537.0L563.1 1531.0L564.7 1536.9L566.4 1532.4L568.0 1539.5L569.6 1533.6L571.3 1541.2L572.9 1540.0L574.5 1544.5L576.2 1536.6L577.8 1543.6L579.5 1535.6L581.1 1540.3L582.7 1531.5L584.4 1541.4L586.0 1536.6L587.6 1541.8L589.3 1534.8L590.9 1540.4L592.5 1534.6L594.2 1540.2L595.8 1535.3L597.5 1538.6L599.1 1534.4L600.7 1539.6L602.4 1536.2L604.0 1541.0L605.6 1536.4L607.3 1543.0L608.9 1538.7L610.5 1543.9L612.2 1541.5L613.8 1551.4L615.5 1548.7L617.1 1555.8L618.7 1556.5L620.4 1562.0L622.0 1555.6L623.6 1555.2L625.3 1548.2L626.9 1548.1L628.5 1542.1L630.2 1546.2L631.8 1540.5L633.5 1543.6L635.1 1537.9L636.7 1541.7L638.4 1536.9L640.0 1545.0L641.6 1545.4L643.3 1551.9L644.9 1548.8L646.5 1548.9L648.2 1544.1L649.8 1545.2L651.5 1539.7L653.1 1542.1L654.7 1536.1L656.4 1540.3L658.0 1535.6L659.6 1536.9L661.3 1532.3L662.9 1536.1L664.5 1531.0L666.2 1534.2L667.8 1527.3L669.5 1533.8L671.1 1526.6L672.7 1531.0L674.4 1524.7L676.0 1532.1L677.6 1528.3L679.3 1534.5L680.9 1530.8L682.5 1534.1L684.2 1528.5L685.8 1533.5L687.5 1529.3L689.1 1532.2L690.7 1528.8L692.4 1532.8L694.0 1527.6L695.6 1531.4L697.3 1527.1L698.9 1533.1L700.5 1529.4L702.2 1533.3L703.8 1530.1L705.5 1536.1L707.1 1533.3L708.7 1538.7L710.4 1533.3L712.0 1539.1L713.6 1536.0L715.3 1538.9L716.9 1537.1L718.5 1541.0L720.2 1538.4L721.8 1548.7L723.5 1544.7L725.1 1553.5L726.7 1548.6L728.4 1550.9L730.0 1545.1L731.6 1546.6L733.3 1541.3L734.9 1543.5L736.5 1539.8L738.2 1542.8L739.8 1537.6L741.5 1540.7L743.1 1536.3L744.7 1542.3L746.4 1537.6L748.0 1542.4L749.6 1537.4L751.3 1543.0L752.9 1537.1L754.5 1542.4L756.2 1536.1L757.8 1539.7L759.5 1533.8L761.1 1536.6L762.7 1533.8L764.4 1541.1L766.0 1539.5L767.6 1545.1L769.3 1542.9L770.9 1551.8L772.5 1549.1L774.2 1555.2L775.8 1546.5L777.5 1553.3L779.1 1546.0L780.7 1551.6L782.4 1544.9L784.0 1550.6L785.6 1545.4L787.3 1547.2L788.9 1540.0L790.5 1542.8L792.2 1534.7L793.8 1537.3L795.5 1529.3L797.1 1531.5L798.7 1526.3L800.4 1532.8L802.0 1529.7L803.6 1540.0L805.3 1536.6L806.9 1541.3L808.5 1533.9L810.2 1538.6L811.8 1529.9L813.5 1536.2L815.1 1533.3L816.7 1539.2L818.4 1536.7L820.0 1542.5L821.6 1538.0L823.3 1544.8L824.9 1541.2L826.5 1545.6L828.2 1542.0L829.8 1549.0L831.5 1542.6L833.1 1548.3L834.7 1540.0L836.4 1546.8L838.0 1539.2L839.6 1541.9L841.3 1535.9L842.9 1539.1L844.5 1530.8L846.2 1536.8L847.8 1529.0L849.5 1535.5L851.1 1526.6L852.7 1534.4L854.4 1528.6L856.0 1535.7L857.6 1527.9L859.3 1538.0L860.9 1534.1L862.5 1541.7L864.2 1535.7L865.8 1540.8L867.5 1537.3L869.1 1542.0L870.7 1537.6L872.4 1540.4L874.0 1535.8L875.6 1540.1L877.3 1534.9L878.9 1538.1L880.5 1534.4L882.2 1537.6L883.8 1533.9L885.5 1538.1L887.1 1534.0L888.7 1537.6L890.4 1533.5L892.0 1537.6L893.6 1531.2L895.3 1534.8L896.9 1530.4L898.5 1534.0L900.2 1529.6L901.8 1533.6L903.5 1529.2L905.1 1533.0L906.7 1528.7L908.4 1534.7L910.0 1531.8L911.6 1537.5L913.3 1535.4L914.9 1540.2L916.5 1537.0L918.2 1540.1L919.8 1536.3L921.5 1538.9L923.1 1535.0L924.7 1537.9L926.4 1533.9L928.0 1542.2L929.6 1540.5L931.3 1546.4L932.9 1545.8L934.5 1550.7L936.2 1547.3L937.8 1550.4L939.5 1545.3L941.1 1549.6L942.7 1542.7L944.4 1546.7L946.0 1542.2L947.6 1550.1L949.3 1546.3L950.9 1552.1L952.5 1547.5L954.2 1552.1L955.8 1547.1L957.5 1552.5L959.1 1549.0L960.7 1553.5L962.4 1549.3L964.0 1553.4L965.6 1549.7L967.3 1553.9L968.9 1549.8L970.5 1555.0L972.2 1549.9L973.8 1553.4L975.5 1549.4L977.1 1553.7L978.7 1548.6L980.4 1550.3L982.0 1544.5L983.6 1544.5L985.3 1538.5L986.9 1539.9L988.5 1534.2L990.2 1540.9L991.8 1535.3L993.5 1544.9L995.1 1539.6L996.7 1546.4L998.4 1542.2L1000.0 1545.8L1001.6 1541.3L1003.3 1544.4L1004.9 1538.5L1006.5 1541.2L1008.2 1536.6L1009.8 1540.7L1011.5 1535.0L1013.1 1538.7L1014.7 1537.6L1016.4 1543.0L1018.0 1540.7L1019.6 1546.2L1021.3 1544.1L1022.9 1548.4L1024.5 1542.2L1026.2 1542.0L1027.8 1535.6L1029.5 1539.0L1031.1 1531.7L1032.7 1535.2L1034.4 1528.0L1036.0 1531.9L1037.6 1525.7L1039.3 1527.4L1040.9 1524.5L1042.5 1529.4L1044.2 1526.9L1045.8 1532.0L1047.5 1529.5L1049.1 1534.9L1050.7 1532.7L1052.4 1538.0L1054.0 1532.7L1055.6 1535.3L1057.3 1532.0L1058.9 1534.7L1060.5 1529.4L1062.2 1534.4L1063.8 1529.0L1065.5 1532.3L1067.1 1527.5L1068.7 1534.0L1070.4 1529.0L1072.0 1534.6L1073.6 1530.8L1075.3 1536.1L1076.9 1530.6L1078.5 1535.1L1080.2 1530.4L1081.8 1534.5L1083.5 1530.7L1085.1 1535.2L1086.7 1531.7L1088.4 1537.6L1090.0 1532.4L1091.6 1540.4L1093.3 1535.5L1094.9 1540.7L1096.5 1537.7L1098.2 1544.0L1099.8 1538.7L1101.5 1545.0L1103.1 1540.9L1104.7 1547.1L1106.4 1543.5L1108.0 1550.5L1109.6 1546.6L1111.3 1554.0L1112.9 1552.2L1114.5 1558.2L1116.2 1554.9L1117.8 1557.1L1119.5 1549.7L1121.1 1550.8L1122.7 1543.2L1124.4 1545.5L1126.0 1539.6L1127.6 1542.3L1129.3 1538.0L1130.9 1540.2L1132.5 1536.7L1134.2 1538.9L1135.8 1535.6L1137.5 1538.3L1139.1 1534.7L1140.7 1540.0L1142.4 1537.0L1144.0 1540.7L1145.6 1539.1L1147.3 1542.5L1148.9 1538.0L1150.5 1543.2L1152.2 1540.4L1153.8 1543.6L1155.5 1540.0L1157.1 1544.7L1158.7 1537.2L1160.4 1542.2L1162.0 1534.6L1163.6 1540.9L1165.3 1538.8L1166.9 1544.5L1168.5 1541.1L1170.2 1546.7L1171.8 1542.1L1173.5 1545.0L1175.1 1539.2L1176.7 1543.5L1178.4 1538.5L1180.0 1542.2L1181.6 1535.6L1183.3 1542.4L1184.9 1537.5L1186.5 1544.1L1188.2 1540.5L1189.8 1543.7L1191.5 1543.1L1193.1 1548.1L1194.7 1546.3L1196.4 1553.8L1198.0 1553.5L1199.6 1559.8L1201.3 1559.8L1202.9 1561.3L1204.5 1554.1L1206.2 1554.0L1207.8 1544.7L1209.5 1550.8L1211.1 1548.0L1212.7 1552.4L1214.4 1549.8L1216.0 1551.0L1217.6 1545.1L1219.3 1546.8L1220.9 1540.1L1222.5 1542.8L1224.2 1537.3L1225.8 1539.0L1227.5 1534.3L1229.1 1538.4L1230.7 1531.9L1232.4 1535.9L1234.0 1531.9L1235.6 1537.3L1237.3 1532.8L1238.9 1537.0L1240.5 1534.8L1242.2 1539.3L1243.8 1536.5L1245.5 1541.3L1247.1 1538.7L1248.7 1542.8L1250.4 1541.8L1252.0 1547.7L1253.6 1548.6L1255.3 1555.2L1256.9 1553.1L1258.5 1558.1L1260.2 1555.6L1261.8 1560.2L1263.5 1557.1L1265.1 1561.0L1266.7 1557.8L1268.4 1562.0L1270.0 1556.6L1271.6 1560.9L1273.3 1555.3L1274.9 1559.0L1276.5 1553.5L1278.2 1557.4L1279.8 1552.1L1281.5 1553.3L1283.1 1547.8L1284.7 1551.3L1286.4 1546.5L1288.0 1550.4L1289.6 1547.7L1291.3 1551.7L1292.9 1546.0L1294.5 1548.5L1296.2 1540.8L1297.8 1542.5L1299.5 1537.4L1301.1 1542.5L1302.7 1540.4L1304.4 1545.5L1306.0 1543.2L1307.6 1546.3L1309.3 1538.2L1310.9 1544.1L1312.5 1535.5L1314.2 1539.3L1315.8 1531.7L1317.5 1538.2L1319.1 1530.9L1320.7 1534.3L1322.4 1528.6L1324.0 1532.7L1325.6 1527.4L1327.3 1532.6L1328.9 1527.6L1330.5 1532.5L1332.2 1530.0L1333.8 1534.9L1335.5 1531.4L1337.1 1537.0L1338.7 1534.6L1340.4 1540.8L1342.0 1537.6L1343.6 1542.6L1345.3 1540.2L1346.9 1546.6L1348.5 1541.4L1350.2 1548.3L1351.8 1545.0L1353.5 1551.4L1355.1 1547.4L1356.7 1549.9L1358.4 1545.8L1360.0 1548.5L1361.6 1543.9L1363.3 1547.2L1364.9 1543.7L1366.5 1548.0L1368.2 1545.0L1369.8 1549.4L1371.5 1546.1L1373.1 1551.5L1374.7 1546.5L1376.4 1549.4L1378.0 1542.1L1379.6 1544.9L1381.3 1536.7L1382.9 1540.4L1384.5 1535.2L1386.2 1538.2L1387.8 1530.1L1389.5 1536.3L1391.1 1528.7L1392.7 1534.6L1394.4 1530.9L1396.0 1533.2L1397.6 1529.8L1399.3 1533.2L1400.9 1530.8L1402.5 1534.4L1404.2 1531.8L1405.8 1537.7L1407.5 1532.3L1409.1 1537.9L1410.7 1535.7L1412.4 1540.2L1414.0 1536.0L1415.6 1542.6L1417.3 1537.2L1418.9 1541.6L1420.5 1537.7L1422.2 1544.3L1423.8 1540.7L1425.5 1543.8L1427.1 1539.1L1428.7 1542.5L1430.4 1538.6L1432.0 1541.3L1433.6 1535.9L1435.3 1540.2L1436.9 1535.0L1438.5 1538.4L1440.2 1533.5L1441.8 1537.2L1443.5 1531.5L1445.1 1536.5L1446.7 1532.0L1448.4 1537.4L1450.0 1533.8L1451.6 1538.9L1453.3 1534.9L1454.9 1541.8L1456.5 1536.8L1458.2 1543.4L1459.8 1538.6L1461.5 1543.6L1463.1 1540.7L1464.7 1546.5L1466.4 1542.0L1468.0 1547.9L1469.6 1543.7L1471.3 1548.6L1472.9 1546.9L1474.5 1551.7L1476.2 1545.4L1477.8 1549.3L1479.5 1543.2L1481.1 1547.9L1482.7 1541.9L1484.4 1544.7L1486.0 1539.8L1487.6 1545.6L1489.3 1538.9L1490.9 1546.2L1492.5 1539.0L1494.2 1545.0L1495.8 1538.8L1497.5 1543.8L1499.1 1536.4L1500.7 1541.6L1502.4 1535.5L1504.0 1539.1L1505.6 1536.1L1507.3 1539.4L1508.9 1537.3L1510.5 1541.4L1512.2 1538.7L1513.8 1545.5L1515.5 1541.0L1517.1 1545.7L1518.7 1538.5L1520.4 1540.6L1522.0 1531.8L1523.6 1533.0L1525.3 1527.0L1526.9 1530.2L1528.5 1525.5L1530.2 1531.2L1531.8 1530.2L1533.5 1536.7L1535.1 1533.8L1536.7 1538.9L1538.4 1535.7L1540.0 1539.5L1541.6 1537.3L1543.3 1546.1L1544.9 1543.5L1546.5 1550.7L1548.2 1548.1L1549.8 1552.2L1551.5 1543.8L1553.1 1545.2L1554.7 1536.7L1556.4 1540.2L1558.0 1535.3L1559.6 1539.2L1561.3 1535.9L1562.9 1538.7L1564.5 1535.8L1566.2 1538.9L1567.8 1533.9L1569.5 1539.0L1571.1 1536.7L1572.7 1546.7L1574.4 1543.0L1576.0 1552.9L1577.6 1546.3L1579.3 1557.5L1580.9 1554.0L1582.5 1564.2L1584.2 1558.8L1585.8 1564.0L1587.5 1559.7L1589.1 1564.1L1590.7 1560.8L1592.4 1560.9L1594.0 1554.0L1595.6 1555.0L1597.3 1545.2L1598.9 1548.6L1600.5 1543.3L1602.2 1549.9L1603.8 1545.0L1605.5 1551.5L1607.1 1548.3L1608.7 1553.2L1610.4 1548.7L1612.0 1551.0L1613.6 1546.9L1615.3 1550.0L1616.9 1545.3L1618.5 1548.2L1620.2 1543.3L1621.8 1545.0L1623.5 1540.8L1625.1 1546.2L1626.7 1540.6L1628.4 1547.5L1630.0 1540.9L1631.6 1547.4L1633.3 1540.7L1634.9 1549.1L1636.5 1544.4L1638.2 1553.0L1639.8 1547.1L1641.5 1554.4L1643.1 1550.7L1644.7 1554.0L1646.4 1544.8L1648.0 1548.2L1649.6 1539.5L1651.3 1543.8L1652.9 1535.7L1654.5 1541.3L1656.2 1532.7L1657.8 1538.3L1659.5 1529.4L1661.1 1536.5L1662.7 1532.9L1664.4 1541.1L1666.0 1539.3L1667.6 1545.9L1669.3 1544.5L1670.9 1550.9L1672.5 1545.2L1674.2 1547.5L1675.8 1540.5L1677.5 1541.6L1679.1 1536.8L1680.7 1538.9L1682.4 1533.9L1684.0 1535.9L1685.6 1531.4L1687.3 1535.1L1688.9 1531.7L1690.5 1537.2L1692.2 1534.2L1693.8 1539.7L1695.5 1537.9L1697.1 1544.4L1698.7 1543.0L1700.4 1551.2L1702.0 1548.4L1703.6 1553.2L1705.3 1548.8L1706.9 1550.4L1708.5 1544.1L1710.2 1545.2L1711.8 1539.2L1713.5 1542.4L1715.1 1534.9L1716.7 1541.6L1718.4 1533.8L1720.0 1539.6L1721.6 1533.9L1723.3 1540.4L1724.9 1534.8L1726.5 1540.2L1728.2 1533.0L1729.8 1536.6L1731.5 1530.8L1733.1 1535.8L1734.7 1529.5L1736.4 1536.1L1738.0 1534.7L1739.6 1542.0L1741.3 1539.6L1742.9 1545.8L1744.5 1541.6L1746.2 1546.0L1747.8 1543.2L1749.5 1546.9L1751.1 1544.9L1752.7 1549.1L1754.4 1546.1L1756.0 1547.7L1757.6 1541.6L1759.3 1543.5L1760.9 1537.1L1762.5 1538.6L1764.2 1533.2L1765.8 1535.1L1767.5 1529.1L1769.1 1532.0L1770.7 1528.8L1772.4 1533.6L1774.0 1531.8L1775.6 1536.7L1777.3 1533.6L1778.9 1539.6L1780.5 1532.3L1782.2 1536.9L1783.8 1533.2L1785.5 1537.3L1787.1 1532.2L1788.7 1536.4L1790.4 1532.9L1792.0 1540.5L1793.6 1535.4L1795.3 1541.6L1796.9 1537.2L1798.5 1540.2L1800.2 1536.3L1801.8 1539.2L1803.5 1535.3L1805.1 1538.1L1806.7 1532.5L1808.4 1536.8L1810.0 1532.5L1811.6 1535.0L1813.3 1528.6L1814.9 1531.3L1816.5 1526.1L1818.2 1529.1L1819.8 1524.4L1821.5 1528.2L1823.1 1525.1L1824.7 1529.1L1826.4 1527.3L1828.0 1531.9L1829.6 1528.5L1831.3 1536.7L1832.9 1533.2L1834.5 1540.5L1836.2 1537.5L1837.8 1544.7L1839.5 1540.0L1841.1 1548.4L1842.7 1544.1L1844.4 1549.7L1846.0 1542.7L1847.6 1546.9L1849.3 1541.9L1850.9 1545.4L1852.5 1541.8L1854.2 1546.3L1855.8 1543.2L1857.5 1547.3L1859.1 1544.2L1860.7 1547.7L1862.4 1543.5L1864.0 1545.5L1865.6 1542.2L1867.3 1545.3L1868.9 1540.7L1870.5 1543.0L1872.2 1540.2L1873.8 1542.7L1875.5 1538.8L1877.1 1541.1L1878.7 1536.5L1880.4 1538.8L1882.0 1534.1L1883.6 1538.6L1884.1 1536.3" fill="none" stroke="#2155a5" stroke-width="7.5" stroke-linejoin="round" stroke-linecap="butt"/>
<g fill="#2155a5" fill-rule="evenodd"><path d="M339.10 735.20L364.10 775.10L314.10 775.10ZM339.10 750.10L350.50 767.60L327.70 767.60Z"/><path d="M441.37 1369.90L466.37 1409.80L416.37 1409.80ZM441.37 1384.80L452.77 1402.30L429.97 1402.30Z"/><path d="M543.64 1525.10L568.64 1565.00L518.64 1565.00ZM543.64 1540.00L555.04 1557.50L532.24 1557.50Z"/><path d="M645.91 1512.80L670.91 1552.70L620.91 1552.70ZM645.91 1527.70L657.31 1545.20L634.51 1545.20Z"/><path d="M748.18 1506.30L773.18 1546.20L723.18 1546.20ZM748.18 1521.20L759.58 1538.70L736.78 1538.70Z"/><path d="M850.45 1526.00L875.45 1565.90L825.45 1565.90ZM850.45 1540.90L861.85 1558.40L839.05 1558.40Z"/><path d="M952.72 1513.90L977.72 1553.80L927.72 1553.80ZM952.72 1528.80L964.12 1546.30L941.32 1546.30Z"/><path d="M1054.99 1524.90L1079.99 1564.80L1029.99 1564.80ZM1054.99 1539.80L1066.39 1557.30L1043.59 1557.30Z"/><path d="M1157.26 1509.60L1182.26 1549.50L1132.26 1549.50ZM1157.26 1524.50L1168.66 1542.00L1145.86 1542.00Z"/><path d="M1259.53 1513.90L1284.53 1553.80L1234.53 1553.80ZM1259.53 1528.80L1270.93 1546.30L1248.13 1546.30Z"/><path d="M1361.80 1508.80L1386.80 1548.70L1336.80 1548.70ZM1361.80 1523.70L1373.20 1541.20L1350.40 1541.20Z"/><path d="M1464.07 1504.40L1489.07 1544.30L1439.07 1544.30ZM1464.07 1519.30L1475.47 1536.80L1452.67 1536.80Z"/><path d="M1566.34 1516.10L1591.34 1556.00L1541.34 1556.00ZM1566.34 1531.00L1577.74 1548.50L1554.94 1548.50Z"/><path d="M1668.61 1518.30L1693.61 1558.20L1643.61 1558.20ZM1668.61 1533.20L1680.01 1550.70L1657.21 1550.70Z"/><path d="M1770.88 1524.90L1795.88 1564.80L1745.88 1564.80ZM1770.88 1539.80L1782.28 1557.30L1759.48 1557.30Z"/><path d="M1873.15 1526.70L1898.15 1566.60L1848.15 1566.60ZM1873.15 1541.60L1884.55 1559.10L1861.75 1559.10Z"/><path d="M1975.42 1513.90L2000.42 1553.80L1950.42 1553.80ZM1975.42 1528.80L1986.82 1546.30L1964.02 1546.30Z"/></g>
<path transform="scale(1.1 1)" d="M245.5 320.0L249.1 317.0L252.7 315.9L255.9 322.0L259.1 339.3L264.8 378.9L269.6 418.5L273.0 458.0L277.3 499.6L282.0 539.1L287.1 578.7L291.6 618.2L297.3 659.6L303.2 699.1L308.6 738.7L314.1 780.0L320.5 819.6L328.1 859.1L336.2 898.7L344.3 938.2L352.7 979.6L360.8 1019.1L368.0 1058.7L374.8 1098.2L383.7 1139.6L390.0 1179.1L396.4 1218.7L401.7 1258.2L407.5 1299.6L412.9 1339.1L418.7 1378.7L424.5 1418.2L430.0 1439.8L437.2 1459.6L441.6 1479.3L445.5 1482.8L447.1 1484.1L448.7 1487.3L450.4 1489.0L452.0 1490.9L453.6 1486.1L455.3 1484.1L456.9 1483.2L458.5 1486.2L460.2 1485.0L461.8 1488.1L463.5 1485.8L465.1 1487.6L466.7 1484.0L468.4 1487.0L470.0 1483.2L471.6 1489.1L473.3 1486.1L474.9 1491.8L476.5 1491.5L478.2 1500.0L479.8 1500.8L481.5 1502.2L483.1 1498.3L484.7 1502.5L486.4 1497.8L488.0 1502.2L489.6 1498.2L491.3 1501.8L492.9 1500.0L494.5 1503.3L496.2 1497.7L497.8 1501.0L499.5 1497.7L501.1 1502.7L502.7 1495.7L504.4 1502.4L506.0 1497.3L507.6 1502.2L509.3 1496.3L510.9 1502.0L512.5 1494.4L514.2 1499.4L515.8 1492.3L517.5 1498.7L519.1 1492.2L520.7 1495.7L522.4 1491.5L524.0 1496.9L525.6 1491.1L527.3 1494.6L528.9 1490.2L530.5 1494.2L532.2 1489.1L533.8 1494.1L535.5 1487.4L537.1 1491.4L538.7 1486.6L540.4 1491.6L542.0 1486.7L543.6 1491.8L545.3 1485.6L546.9 1491.9L548.5 1490.1L550.2 1496.1L551.8 1495.4L553.5 1500.2L555.1 1496.1L556.7 1498.8L558.4 1493.1L560.0 1494.0L561.6 1488.3L563.3 1491.9L564.9 1487.3L566.5 1491.6L568.2 1486.6L569.8 1490.0L571.5 1485.9L573.1 1490.9L574.7 1487.8L576.4 1492.7L578.0 1489.3L579.6 1495.6L581.3 1491.4L582.9 1497.2L584.5 1493.3L586.2 1497.9L587.8 1493.2L589.5 1498.1L591.1 1492.7L592.7 1496.9L594.4 1492.3L596.0 1496.4L597.6 1491.3L599.3 1495.1L600.9 1489.0L602.5 1494.2L604.2 1487.7L605.8 1493.4L607.5 1490.7L609.1 1496.0L610.7 1494.4L612.4 1498.7L614.0 1498.2L615.6 1502.7L617.3 1502.1L618.9 1507.3L620.5 1503.8L622.2 1507.6L623.8 1500.3L625.5 1503.7L627.1 1495.5L628.7 1499.6L630.4 1494.8L632.0 1497.8L633.6 1491.2L635.3 1495.7L636.9 1491.0L638.5 1494.1L640.2 1493.0L641.8 1499.4L643.5 1496.6L645.1 1501.4L646.7 1498.2L648.4 1499.7L650.0 1493.8L651.6 1496.6L653.3 1491.8L654.9 1493.9L656.5 1488.3L658.2 1493.3L659.8 1488.2L661.5 1492.8L663.1 1487.3L664.7 1492.1L666.4 1485.9L668.0 1488.8L669.6 1482.9L671.3 1486.5L672.9 1481.2L674.5 1483.7L676.2 1480.5L677.8 1484.6L679.5 1482.4L681.1 1488.3L682.7 1485.8L684.4 1490.8L686.0 1488.0L687.6 1491.7L689.3 1487.0L690.9 1490.7L692.5 1486.3L694.2 1489.3L695.8 1484.2L697.5 1487.7L699.1 1483.0L700.7 1486.0L702.4 1481.4L704.0 1485.7L705.6 1483.6L707.3 1487.7L708.9 1483.5L710.5 1488.3L712.2 1484.9L713.8 1489.0L715.5 1488.6L717.1 1494.1L718.7 1493.2L720.4 1498.7L722.0 1497.7L723.6 1502.2L725.3 1498.2L726.9 1503.4L728.5 1499.3L730.2 1500.2L731.8 1493.5L733.5 1496.5L735.1 1490.2L736.7 1493.3L738.4 1489.1L740.0 1491.6L741.6 1489.3L743.3 1492.6L744.9 1489.1L746.5 1493.1L748.2 1491.0L749.8 1494.2L751.5 1491.1L753.1 1495.1L754.7 1491.2L756.4 1496.3L758.0 1491.8L759.6 1496.3L761.3 1491.6L762.9 1497.4L764.5 1496.1L766.2 1501.9L767.8 1500.7L769.5 1507.5L771.1 1504.2L772.7 1508.0L774.4 1504.9L776.0 1509.8L777.6 1504.6L779.3 1508.5L780.9 1502.8L782.5 1505.8L784.2 1500.9L785.8 1503.0L787.5 1499.3L789.1 1501.0L790.7 1495.9L792.4 1495.9L794.0 1490.2L795.6 1491.8L797.3 1484.9L798.9 1488.7L800.5 1485.0L802.2 1489.7L803.8 1488.8L805.5 1491.3L807.1 1486.9L808.7 1489.9L810.4 1483.6L812.0 1488.4L813.6 1487.3L815.3 1491.2L816.9 1489.8L818.5 1493.8L820.2 1491.9L821.8 1496.2L823.5 1491.7L825.1 1499.6L826.7 1494.4L828.4 1501.2L830.0 1496.3L831.6 1503.4L833.3 1499.9L834.9 1502.6L836.5 1496.9L838.2 1499.7L839.8 1490.9L841.5 1494.7L843.1 1490.3L844.7 1495.4L846.4 1490.7L848.0 1496.3L849.6 1491.7L851.3 1492.7L852.9 1486.6L854.5 1488.7L856.2 1485.1L857.8 1489.0L859.5 1486.8L861.1 1490.5L862.7 1489.3L864.4 1491.8L866.0 1489.6L867.6 1493.1L869.3 1488.8L870.9 1495.7L872.5 1490.7L874.2 1496.5L875.8 1491.2L877.5 1498.1L879.1 1494.1L880.7 1498.9L882.4 1494.0L884.0 1499.2L885.6 1492.9L887.3 1498.0L888.9 1494.0L890.5 1497.1L892.2 1491.5L893.8 1496.4L895.5 1492.1L897.1 1494.0L898.7 1488.4L900.4 1491.6L902.0 1487.4L903.6 1489.8L905.3 1484.8L906.9 1488.3L908.5 1484.6L910.2 1490.0L911.8 1487.1L913.5 1491.8L915.1 1487.4L916.7 1491.7L918.4 1486.8L920.0 1489.6L921.6 1486.7L923.3 1491.7L924.9 1489.5L926.5 1494.8L928.2 1493.1L929.8 1498.6L931.5 1493.1L933.1 1497.5L934.7 1493.6L936.4 1496.2L938.0 1491.8L939.6 1496.4L941.3 1495.0L942.9 1498.6L944.5 1495.3L946.2 1500.2L947.8 1496.7L949.5 1500.3L951.1 1495.2L952.7 1501.1L954.4 1496.5L956.0 1500.8L957.6 1496.5L959.3 1501.8L960.9 1498.2L962.5 1502.3L964.2 1499.0L965.8 1501.6L967.5 1498.2L969.1 1500.2L970.7 1495.9L972.4 1500.2L974.0 1496.0L975.6 1499.2L977.3 1495.7L978.9 1499.0L980.5 1495.5L982.2 1498.5L983.8 1493.8L985.5 1499.6L987.1 1495.9L988.7 1499.7L990.4 1496.6L992.0 1499.5L993.6 1497.5L995.3 1501.9L996.9 1496.7L998.5 1500.6L1000.2 1495.2L1001.8 1498.4L1003.5 1493.2L1005.1 1496.1L1006.7 1492.9L1008.4 1495.1L1010.0 1490.6L1011.6 1493.8L1013.3 1491.9L1014.9 1496.3L1016.5 1494.0L1018.2 1502.0L1019.8 1496.2L1021.5 1504.7L1023.1 1499.4L1024.7 1503.4L1026.4 1497.5L1028.0 1501.8L1029.6 1497.9L1031.3 1502.9L1032.9 1493.4L1034.5 1493.9L1036.2 1484.8L1037.8 1485.8L1039.5 1481.1L1041.1 1486.6L1042.7 1481.7L1044.4 1489.4L1046.0 1486.0L1047.6 1490.5L1049.3 1485.7L1050.9 1491.5L1052.5 1487.3L1054.2 1492.2L1055.8 1487.7L1057.5 1492.1L1059.1 1489.0L1060.7 1492.7L1062.4 1489.2L1064.0 1492.6L1065.6 1488.2L1067.3 1492.3L1068.9 1488.0L1070.5 1492.8L1072.2 1488.0L1073.8 1492.4L1075.5 1488.6L1077.1 1491.5L1078.7 1489.0L1080.4 1492.8L1082.0 1486.8L1083.6 1494.4L1085.3 1490.4L1086.9 1496.5L1088.5 1492.9L1090.2 1497.9L1091.8 1496.1L1093.5 1500.7L1095.1 1497.0L1096.7 1502.5L1098.4 1499.0L1100.0 1503.5L1101.6 1497.2L1103.3 1503.6L1104.9 1498.4L1106.5 1501.2L1108.2 1497.9L1109.8 1502.1L1111.5 1499.7L1113.1 1504.7L1114.7 1502.8L1116.4 1508.1L1118.0 1506.3L1119.6 1506.7L1121.3 1500.1L1122.9 1501.1L1124.5 1494.6L1126.2 1498.4L1127.8 1492.9L1129.5 1497.4L1131.1 1491.4L1132.7 1494.0L1134.4 1490.8L1136.0 1494.4L1137.6 1491.0L1139.3 1494.5L1140.9 1490.1L1142.5 1496.2L1144.2 1492.1L1145.8 1497.0L1147.5 1493.3L1149.1 1497.2L1150.7 1492.2L1152.4 1496.4L1154.0 1493.6L1155.6 1497.0L1157.3 1491.7L1158.9 1496.8L1160.5 1491.9L1162.2 1496.8L1163.8 1492.1L1165.5 1497.3L1167.1 1493.2L1168.7 1495.8L1170.4 1493.2L1172.0 1495.6L1173.6 1492.9L1175.3 1496.4L1176.9 1492.2L1178.5 1495.6L1180.2 1492.2L1181.8 1495.9L1183.5 1492.7L1185.1 1496.5L1186.7 1494.3L1188.4 1498.6L1190.0 1494.1L1191.6 1500.0L1193.3 1496.9L1194.9 1501.7L1196.5 1500.0L1198.2 1505.0L1199.8 1501.5L1201.5 1507.7L1203.1 1504.3L1204.7 1508.6L1206.4 1502.6L1208.0 1505.6L1209.6 1497.7L1211.3 1502.8L1212.9 1499.4L1214.5 1506.7L1216.2 1504.6L1217.8 1508.3L1219.5 1500.0L1221.1 1505.2L1222.7 1497.7L1224.4 1504.4L1226.0 1500.7L1227.6 1503.4L1229.3 1501.0L1230.9 1504.2L1232.5 1499.4L1234.2 1501.8L1235.8 1496.1L1237.5 1497.3L1239.1 1493.0L1240.7 1496.9L1242.4 1494.7L1244.0 1498.4L1245.6 1495.2L1247.3 1499.8L1248.9 1497.2L1250.5 1501.7L1252.2 1499.3L1253.8 1503.0L1255.5 1500.5L1257.1 1503.5L1258.7 1500.9L1260.4 1504.5L1262.0 1502.3L1263.6 1505.8L1265.3 1503.8L1266.9 1508.1L1268.5 1504.0L1270.2 1507.5L1271.8 1503.4L1273.5 1507.1L1275.1 1504.4L1276.7 1508.9L1278.4 1504.8L1280.0 1506.7L1281.6 1502.8L1283.3 1504.2L1284.9 1500.0L1286.5 1503.5L1288.2 1500.6L1289.8 1505.4L1291.5 1502.8L1293.1 1504.4L1294.7 1498.4L1296.4 1499.0L1298.0 1493.1L1299.6 1496.6L1301.3 1492.9L1302.9 1497.4L1304.5 1494.1L1306.2 1498.3L1307.8 1493.9L1309.5 1496.8L1311.1 1491.7L1312.7 1492.9L1314.4 1488.7L1316.0 1491.5L1317.6 1486.8L1319.3 1489.6L1320.9 1484.2L1322.5 1488.2L1324.2 1482.0L1325.8 1485.8L1327.5 1482.7L1329.1 1486.8L1330.7 1485.3L1332.4 1488.9L1334.0 1487.3L1335.6 1490.7L1337.3 1487.8L1338.9 1494.1L1340.5 1490.8L1342.2 1494.7L1343.8 1493.4L1345.5 1497.7L1347.1 1494.3L1348.7 1498.4L1350.4 1496.6L1352.0 1499.4L1353.6 1496.2L1355.3 1500.9L1356.9 1496.3L1358.5 1501.6L1360.2 1497.6L1361.8 1503.1L1363.5 1499.4L1365.1 1504.2L1366.7 1500.7L1368.4 1504.6L1370.0 1499.3L1371.6 1505.1L1373.3 1500.6L1374.9 1504.3L1376.5 1498.7L1378.2 1500.2L1379.8 1495.1L1381.5 1498.1L1383.1 1492.4L1384.7 1494.9L1386.4 1488.1L1388.0 1492.9L1389.6 1485.4L1391.3 1491.5L1392.9 1486.8L1394.5 1496.9L1396.2 1490.6L1397.8 1497.0L1399.5 1489.6L1401.1 1494.8L1402.7 1490.4L1404.4 1493.3L1406.0 1490.7L1407.6 1494.3L1409.3 1491.9L1410.9 1495.2L1412.5 1491.0L1414.2 1497.6L1415.8 1492.4L1417.5 1497.1L1419.1 1491.5L1420.7 1496.5L1422.4 1493.1L1424.0 1498.2L1425.6 1492.8L1427.3 1497.6L1428.9 1492.9L1430.5 1498.5L1432.2 1491.5L1433.8 1497.1L1435.5 1492.9L1437.1 1496.1L1438.7 1492.4L1440.4 1497.5L1442.0 1493.0L1443.6 1497.1L1445.3 1491.7L1446.9 1497.5L1448.5 1493.3L1450.2 1496.1L1451.8 1493.7L1453.5 1495.7L1455.1 1492.9L1456.7 1497.0L1458.4 1494.1L1460.0 1498.5L1461.6 1492.7L1463.3 1499.1L1464.9 1493.5L1466.5 1499.8L1468.2 1496.5L1469.8 1501.3L1471.5 1499.6L1473.1 1503.8L1474.7 1501.0L1476.4 1506.2L1478.0 1501.1L1479.6 1505.5L1481.3 1501.2L1482.9 1504.1L1484.5 1500.9L1486.2 1503.3L1487.8 1497.5L1489.5 1500.8L1491.1 1494.9L1492.7 1498.6L1494.4 1492.9L1496.0 1498.3L1497.6 1492.9L1499.3 1495.9L1500.9 1490.8L1502.5 1495.3L1504.2 1490.9L1505.8 1494.4L1507.5 1491.4L1509.1 1493.7L1510.7 1491.1L1512.4 1494.5L1514.0 1490.2L1515.6 1495.4L1517.3 1493.0L1518.9 1495.2L1520.5 1492.1L1522.2 1496.4L1523.8 1493.0L1525.5 1496.7L1527.1 1493.1L1528.7 1496.3L1530.4 1492.9L1532.0 1497.0L1533.6 1492.8L1535.3 1497.0L1536.9 1493.7L1538.5 1496.4L1540.2 1492.8L1541.8 1496.6L1543.5 1494.2L1545.1 1496.6L1546.7 1492.9L1548.4 1497.0L1550.0 1494.0L1551.6 1497.4L1553.3 1494.7L1554.9 1498.6L1556.5 1494.8L1558.2 1498.7L1559.8 1494.9L1561.5 1498.2L1563.1 1494.8L1564.7 1497.0L1566.4 1493.6L1568.0 1497.8L1569.6 1492.1L1571.3 1498.4L1572.9 1496.0L1574.5 1502.6L1576.2 1500.7L1577.8 1507.9L1579.5 1506.0L1581.1 1512.3L1582.7 1508.9L1584.4 1512.3L1586.0 1509.1L1587.6 1514.0L1589.3 1510.7L1590.9 1514.8L1592.5 1508.8L1594.2 1509.7L1595.8 1502.9L1597.5 1503.5L1599.1 1496.0L1600.7 1500.4L1602.4 1494.4L1604.0 1498.6L1605.6 1492.2L1607.3 1497.2L1608.9 1492.6L1610.5 1497.6L1612.2 1491.5L1613.8 1498.8L1615.5 1492.5L1617.1 1498.7L1618.7 1494.9L1620.4 1498.3L1622.0 1495.1L1623.6 1498.2L1625.3 1495.2L1626.9 1498.9L1628.5 1495.7L1630.2 1499.3L1631.8 1495.6L1633.5 1500.2L1635.1 1497.2L1636.7 1502.2L1638.4 1498.7L1640.0 1502.3L1641.6 1498.0L1643.3 1503.0L1644.9 1496.5L1646.5 1500.0L1648.2 1493.5L1649.8 1497.6L1651.5 1492.3L1653.1 1497.9L1654.7 1490.3L1656.4 1494.1L1658.0 1487.9L1659.6 1493.4L1661.3 1489.3L1662.9 1493.8L1664.5 1491.9L1666.2 1497.2L1667.8 1494.3L1669.5 1500.8L1671.1 1496.1L1672.7 1498.8L1674.4 1493.9L1676.0 1495.1L1677.6 1490.8L1679.3 1492.6L1680.9 1487.9L1682.5 1492.1L1684.2 1488.1L1685.8 1491.5L1687.5 1488.8L1689.1 1493.1L1690.7 1491.7L1692.4 1496.5L1694.0 1496.9L1695.6 1501.1L1697.3 1498.8L1698.9 1503.5L1700.5 1499.5L1702.2 1506.5L1703.8 1500.1L1705.5 1505.6L1707.1 1499.1L1708.7 1504.4L1710.4 1499.8L1712.0 1503.7L1713.6 1497.4L1715.3 1503.1L1716.9 1496.6L1718.5 1502.6L1720.2 1496.5L1721.8 1501.2L1723.5 1496.2L1725.1 1500.2L1726.7 1496.0L1728.4 1499.8L1730.0 1496.9L1731.6 1499.3L1733.3 1495.6L1734.9 1499.6L1736.5 1495.7L1738.2 1499.4L1739.8 1496.0L1741.5 1499.3L1743.1 1496.3L1744.7 1500.4L1746.4 1497.6L1748.0 1501.5L1749.6 1497.9L1751.3 1502.6L1752.9 1499.7L1754.5 1503.1L1756.2 1497.5L1757.8 1499.6L1759.5 1494.2L1761.1 1496.7L1762.7 1490.1L1764.4 1493.0L1766.0 1488.2L1767.6 1489.3L1769.3 1485.0L1770.9 1490.4L1772.5 1485.1L1774.2 1490.9L1775.8 1487.2L1777.5 1493.5L1779.1 1487.6L1780.7 1492.9L1782.4 1487.7L1784.0 1493.3L1785.6 1489.2L1787.3 1495.2L1788.9 1490.7L1790.5 1495.7L1792.2 1488.4L1793.8 1495.1L1795.5 1488.9L1797.1 1495.1L1798.7 1487.6L1800.4 1493.9L1802.0 1488.5L1803.6 1494.1L1805.3 1489.2L1806.9 1492.2L1808.5 1489.4L1810.2 1492.7L1811.8 1488.4L1813.5 1492.9L1815.1 1489.0L1816.7 1492.1L1818.4 1488.8L1820.0 1492.5L1821.6 1487.0L1823.3 1492.1L1824.9 1487.4L1826.5 1491.7L1828.2 1488.3L1829.8 1493.4L1831.5 1488.1L1833.1 1494.7L1834.7 1491.6L1836.4 1495.4L1838.0 1493.8L1839.6 1498.2L1841.3 1495.7L1842.9 1502.3L1844.5 1499.9L1846.2 1505.2L1847.8 1500.4L1849.5 1502.5L1851.1 1496.9L1852.7 1499.1L1854.4 1496.9L1856.0 1502.3L1857.6 1498.9L1859.3 1503.2L1860.9 1499.1L1862.5 1501.4L1864.2 1496.0L1865.8 1499.1L1867.5 1495.4L1869.1 1497.5L1870.7 1495.1L1872.4 1497.3L1874.0 1494.1L1875.6 1496.5L1877.3 1492.8L1878.9 1494.9L1880.5 1491.3L1882.2 1494.5L1883.8 1489.3L1884.1 1492.3" fill="none" stroke="#a458a4" stroke-width="7.5" stroke-linejoin="round" stroke-linecap="butt"/>
<g fill="#a458a4" fill-rule="evenodd"><path d="M342.10 811.20L386.40 833.90L342.10 856.60ZM350.00 823.60L370.20 833.90L350.00 844.20Z"/><path d="M444.37 1341.40L488.67 1364.10L444.37 1386.80ZM452.27 1353.80L472.47 1364.10L452.27 1374.40Z"/><path d="M546.64 1476.80L590.94 1499.50L546.64 1522.20ZM554.54 1489.20L574.74 1499.50L554.54 1509.80Z"/><path d="M648.91 1467.80L693.21 1490.50L648.91 1513.20ZM656.81 1480.20L677.01 1490.50L656.81 1500.80Z"/><path d="M751.18 1463.50L795.48 1486.20L751.18 1508.90ZM759.08 1475.90L779.28 1486.20L759.08 1496.50Z"/><path d="M853.45 1476.80L897.75 1499.50L853.45 1522.20ZM861.35 1489.20L881.55 1499.50L861.35 1509.80Z"/><path d="M955.72 1474.00L1000.02 1496.70L955.72 1519.40ZM963.62 1486.40L983.82 1496.70L963.62 1507.00Z"/><path d="M1057.99 1474.20L1102.29 1496.90L1057.99 1519.60ZM1065.89 1486.60L1086.09 1496.90L1065.89 1507.20Z"/><path d="M1160.26 1468.00L1204.56 1490.70L1160.26 1513.40ZM1168.16 1480.40L1188.36 1490.70L1168.16 1501.00Z"/><path d="M1262.53 1471.80L1306.83 1494.50L1262.53 1517.20ZM1270.43 1484.20L1290.63 1494.50L1270.43 1504.80Z"/><path d="M1364.80 1478.80L1409.10 1501.50L1364.80 1524.20ZM1372.70 1491.20L1392.90 1501.50L1372.70 1511.80Z"/><path d="M1467.07 1474.20L1511.37 1496.90L1467.07 1519.60ZM1474.97 1486.60L1495.17 1496.90L1474.97 1507.20Z"/><path d="M1569.34 1472.30L1613.64 1495.00L1569.34 1517.70ZM1577.24 1484.70L1597.44 1495.00L1577.24 1505.30Z"/><path d="M1671.61 1471.80L1715.91 1494.50L1671.61 1517.20ZM1679.51 1484.20L1699.71 1494.50L1679.51 1504.80Z"/><path d="M1773.88 1474.20L1818.18 1496.90L1773.88 1519.60ZM1781.78 1486.60L1801.98 1496.90L1781.78 1507.20Z"/><path d="M1876.15 1476.90L1920.45 1499.60L1876.15 1522.30ZM1884.05 1489.30L1904.25 1499.60L1884.05 1509.90Z"/><path d="M1978.42 1467.80L2022.72 1490.50L1978.42 1513.20ZM1986.32 1480.20L2006.52 1490.50L1986.32 1500.80Z"/></g>
<path transform="scale(1.1 1)" d="M245.5 320.0L249.1 317.0L252.7 315.9L255.9 322.0L259.3 339.3L265.2 378.9L270.1 418.5L272.7 458.0L276.6 499.6L281.5 539.1L287.0 578.7L291.9 618.2L297.7 659.6L304.9 699.1L310.8 738.7L317.5 778.2L324.7 819.6L333.3 859.1L342.7 898.7L351.7 938.2L363.8 979.6L374.5 1019.1L385.1 1058.7L395.0 1098.2L406.2 1139.6L416.1 1179.1L426.0 1218.7L431.4 1238.5L437.6 1258.2L445.3 1279.8L452.5 1299.6L461.5 1319.3L473.2 1339.1L485.7 1358.9L498.4 1368.8L507.3 1373.7L509.1 1374.3L510.7 1374.7L512.4 1375.4L514.0 1375.6L515.6 1376.3L517.3 1375.7L518.9 1376.6L520.5 1376.0L522.2 1377.2L523.8 1376.5L525.5 1377.6L527.1 1376.8L528.7 1378.5L530.4 1377.2L532.0 1377.9L533.6 1376.3L535.3 1377.2L536.9 1374.8L538.5 1376.0L540.2 1373.7L541.8 1375.0L543.5 1372.0L545.1 1373.5L546.7 1372.3L548.4 1374.5L550.0 1374.2L551.6 1377.1L553.3 1376.8L554.9 1378.8L556.5 1377.9L558.2 1378.8L559.8 1377.5L561.5 1378.3L563.1 1376.2L564.7 1376.9L566.4 1374.7L568.0 1377.4L569.6 1376.3L571.3 1378.1L572.9 1377.0L574.5 1380.0L576.2 1378.1L577.8 1380.9L579.5 1379.3L581.1 1381.5L582.7 1380.4L584.4 1382.0L586.0 1380.0L587.6 1380.9L589.3 1379.1L590.9 1380.5L592.5 1378.0L594.2 1378.7L595.8 1376.3L597.5 1376.6L599.1 1375.3L600.7 1376.9L602.4 1375.6L604.0 1377.6L605.6 1376.4L607.3 1378.3L608.9 1376.4L610.5 1378.4L612.2 1377.9L613.8 1379.5L615.5 1377.8L617.1 1380.5L618.7 1378.9L620.4 1380.4L622.0 1378.2L623.6 1379.6L625.3 1377.9L626.9 1379.1L628.5 1377.0L630.2 1378.5L631.8 1377.2L633.5 1378.6L635.1 1376.0L636.7 1378.1L638.4 1375.7L640.0 1378.9L641.6 1377.0L643.3 1379.6L644.9 1378.1L646.5 1379.9L648.2 1377.9L649.8 1379.2L651.5 1377.4L653.1 1379.0L654.7 1377.2L656.4 1378.2L658.0 1376.6L659.6 1378.3L661.3 1376.3L662.9 1378.0L664.5 1375.0L666.2 1376.2L667.8 1374.6L669.5 1375.8L671.1 1372.7L672.7 1374.1L674.4 1372.3L676.0 1373.6L677.6 1372.1L679.3 1373.7L680.9 1372.3L682.5 1373.9L684.2 1372.4L685.8 1374.4L687.5 1372.5L689.1 1374.4L690.7 1372.8L692.4 1374.8L694.0 1372.7L695.6 1374.5L697.3 1372.7L698.9 1375.4L700.5 1373.2L702.2 1375.7L703.8 1374.6L705.5 1376.6L707.1 1375.2L708.7 1377.0L710.4 1375.7L712.0 1378.6L713.6 1376.2L715.3 1378.8L716.9 1376.6L718.5 1379.1L720.2 1376.5L721.8 1379.0L723.5 1376.5L725.1 1378.6L726.7 1377.3L728.4 1378.9L730.0 1377.2L731.6 1378.5L733.3 1377.3L734.9 1378.7L736.5 1376.9L738.2 1378.2L739.8 1376.1L741.5 1378.7L743.1 1375.6L744.7 1378.1L746.4 1376.3L748.0 1378.3L749.6 1376.3L751.3 1378.6L752.9 1377.8L754.5 1378.9L756.2 1378.4L757.8 1379.6L759.5 1379.3L761.1 1381.4L762.7 1380.0L764.4 1383.2L766.0 1381.8L767.6 1384.3L769.3 1383.0L770.9 1385.6L772.5 1383.4L774.2 1385.2L775.8 1383.6L777.5 1384.6L779.1 1382.9L780.7 1384.7L782.4 1381.7L784.0 1381.5L785.6 1377.4L787.3 1379.0L788.9 1377.2L790.5 1379.1L792.2 1377.2L793.8 1378.0L795.5 1376.4L797.1 1377.9L798.7 1376.7L800.4 1378.5L802.0 1375.6L803.6 1378.2L805.3 1375.9L806.9 1377.8L808.5 1374.4L810.2 1377.0L811.8 1374.6L813.5 1375.6L815.1 1373.9L816.7 1374.5L818.4 1372.6L820.0 1375.4L821.6 1374.7L823.3 1376.4L824.9 1375.7L826.5 1378.0L828.2 1377.4L829.8 1379.8L831.5 1379.0L833.1 1381.0L834.7 1378.9L836.4 1380.4L838.0 1378.4L839.6 1379.9L841.3 1377.4L842.9 1378.7L844.5 1376.8L846.2 1378.1L847.8 1374.9L849.5 1376.8L851.1 1373.3L852.7 1374.8L854.4 1371.7L856.0 1373.6L857.6 1373.4L859.3 1376.1L860.9 1375.2L862.5 1377.4L864.2 1376.9L865.8 1379.9L867.5 1378.7L869.1 1380.1L870.7 1378.7L872.4 1381.0L874.0 1379.7L875.6 1381.2L877.3 1379.7L878.9 1381.1L880.5 1379.4L882.2 1380.4L883.8 1379.4L885.5 1380.4L887.1 1379.0L888.7 1380.4L890.4 1378.8L892.0 1380.7L893.6 1379.2L895.3 1380.8L896.9 1378.8L898.5 1380.1L900.2 1378.5L901.8 1379.6L903.5 1377.5L905.1 1378.9L906.7 1377.0L908.4 1378.3L910.0 1376.5L911.6 1377.5L913.3 1376.0L914.9 1377.5L916.5 1375.6L918.2 1377.3L919.8 1375.0L921.5 1376.4L923.1 1375.3L924.7 1376.6L926.4 1376.0L928.0 1377.3L929.6 1375.9L931.3 1377.9L932.9 1376.7L934.5 1378.4L936.2 1377.1L937.8 1378.3L939.5 1376.9L941.1 1378.5L942.7 1376.2L944.4 1377.4L946.0 1376.0L947.6 1376.9L949.3 1375.6L950.9 1376.7L952.5 1376.6L954.2 1378.8L955.8 1377.9L957.5 1380.9L959.1 1379.9L960.7 1382.2L962.4 1381.8L964.0 1382.4L965.6 1380.5L967.3 1381.9L968.9 1379.4L970.5 1381.1L972.2 1378.5L973.8 1379.7L975.5 1377.1L977.1 1378.8L978.7 1377.7L980.4 1379.1L982.0 1377.9L983.6 1379.8L985.3 1378.2L986.9 1380.1L988.5 1378.9L990.2 1380.0L991.8 1378.4L993.5 1379.4L995.1 1377.4L996.7 1379.1L998.4 1376.8L1000.0 1378.0L1001.6 1375.6L1003.3 1376.9L1004.9 1374.9L1006.5 1376.2L1008.2 1375.4L1009.8 1376.6L1011.5 1375.1L1013.1 1376.7L1014.7 1374.5L1016.4 1377.1L1018.0 1376.0L1019.6 1379.0L1021.3 1378.5L1022.9 1380.9L1024.5 1381.0L1026.2 1382.0L1027.8 1381.1L1029.5 1383.1L1031.1 1381.8L1032.7 1382.1L1034.4 1379.0L1036.0 1378.2L1037.6 1374.7L1039.3 1375.4L1040.9 1373.8L1042.5 1375.1L1044.2 1373.2L1045.8 1374.8L1047.5 1373.5L1049.1 1376.6L1050.7 1375.8L1052.4 1378.4L1054.0 1376.7L1055.6 1378.0L1057.3 1376.8L1058.9 1377.7L1060.5 1375.9L1062.2 1377.3L1063.8 1375.8L1065.5 1376.6L1067.1 1375.0L1068.7 1376.3L1070.4 1375.0L1072.0 1376.4L1073.6 1374.4L1075.3 1376.2L1076.9 1374.1L1078.5 1376.2L1080.2 1374.2L1081.8 1375.9L1083.5 1374.4L1085.1 1375.5L1086.7 1374.7L1088.4 1376.1L1090.0 1374.5L1091.6 1376.5L1093.3 1374.9L1094.9 1376.4L1096.5 1374.4L1098.2 1377.2L1099.8 1375.7L1101.5 1377.3L1103.1 1376.3L1104.7 1378.2L1106.4 1377.4L1108.0 1380.1L1109.6 1379.1L1111.3 1381.5L1112.9 1380.2L1114.5 1383.4L1116.2 1383.0L1117.8 1383.1L1119.5 1381.2L1121.1 1382.3L1122.7 1379.8L1124.4 1380.6L1126.0 1377.9L1127.6 1379.7L1129.3 1378.6L1130.9 1380.0L1132.5 1378.4L1134.2 1379.6L1135.8 1378.0L1137.5 1380.0L1139.1 1378.5L1140.7 1379.6L1142.4 1377.8L1144.0 1379.3L1145.6 1377.9L1147.3 1379.7L1148.9 1377.4L1150.5 1379.4L1152.2 1376.6L1153.8 1379.0L1155.5 1377.2L1157.1 1379.2L1158.7 1377.0L1160.4 1380.0L1162.0 1377.4L1163.6 1379.9L1165.3 1377.4L1166.9 1379.5L1168.5 1377.3L1170.2 1380.6L1171.8 1377.7L1173.5 1380.8L1175.1 1378.8L1176.7 1381.1L1178.4 1377.6L1180.0 1379.5L1181.6 1377.3L1183.3 1379.0L1184.9 1375.5L1186.5 1377.4L1188.2 1374.5L1189.8 1377.6L1191.5 1375.2L1193.1 1378.8L1194.7 1376.4L1196.4 1379.6L1198.0 1378.2L1199.6 1380.6L1201.3 1379.1L1202.9 1382.9L1204.5 1380.7L1206.2 1383.7L1207.8 1381.1L1209.5 1384.9L1211.1 1383.3L1212.7 1385.7L1214.4 1382.3L1216.0 1383.6L1217.6 1380.5L1219.3 1381.4L1220.9 1380.0L1222.5 1382.5L1224.2 1382.0L1225.8 1385.0L1227.5 1384.5L1229.1 1386.6L1230.7 1384.1L1232.4 1384.6L1234.0 1382.8L1235.6 1384.0L1237.3 1381.3L1238.9 1382.6L1240.5 1380.5L1242.2 1381.5L1243.8 1379.5L1245.5 1382.0L1247.1 1379.7L1248.7 1383.0L1250.4 1381.0L1252.0 1383.1L1253.6 1381.3L1255.3 1383.1L1256.9 1382.1L1258.5 1384.4L1260.2 1383.2L1261.8 1384.8L1263.5 1384.1L1265.1 1385.8L1266.7 1384.7L1268.4 1386.5L1270.0 1385.3L1271.6 1386.3L1273.3 1384.7L1274.9 1386.3L1276.5 1384.9L1278.2 1386.0L1279.8 1384.3L1281.5 1385.1L1283.1 1383.8L1284.7 1384.9L1286.4 1383.3L1288.0 1384.2L1289.6 1382.5L1291.3 1383.9L1292.9 1382.0L1294.5 1383.6L1296.2 1381.1L1297.8 1382.0L1299.5 1379.7L1301.1 1380.9L1302.7 1378.8L1304.4 1379.5L1306.0 1377.6L1307.6 1378.2L1309.3 1376.5L1310.9 1378.4L1312.5 1376.0L1314.2 1377.8L1315.8 1375.4L1317.5 1376.9L1319.1 1375.2L1320.7 1375.8L1322.4 1374.0L1324.0 1375.2L1325.6 1374.0L1327.3 1374.9L1328.9 1373.0L1330.5 1375.2L1332.2 1373.5L1333.8 1376.0L1335.5 1374.9L1337.1 1377.5L1338.7 1376.9L1340.4 1378.8L1342.0 1377.3L1343.6 1379.2L1345.3 1377.6L1346.9 1379.9L1348.5 1377.6L1350.2 1380.2L1351.8 1377.8L1353.5 1379.9L1355.1 1378.0L1356.7 1379.4L1358.4 1378.2L1360.0 1379.9L1361.6 1378.5L1363.3 1380.3L1364.9 1379.0L1366.5 1379.9L1368.2 1378.7L1369.8 1380.6L1371.5 1378.7L1373.1 1380.5L1374.7 1379.1L1376.4 1380.7L1378.0 1379.3L1379.6 1380.9L1381.3 1379.0L1382.9 1381.4L1384.5 1378.5L1386.2 1379.5L1387.8 1377.2L1389.5 1377.8L1391.1 1376.1L1392.7 1379.9L1394.4 1378.7L1396.0 1382.4L1397.6 1380.9L1399.3 1382.9L1400.9 1380.6L1402.5 1381.1L1404.2 1378.7L1405.8 1380.2L1407.5 1377.4L1409.1 1378.8L1410.7 1375.7L1412.4 1378.0L1414.0 1376.8L1415.6 1378.7L1417.3 1376.9L1418.9 1379.7L1420.5 1377.8L1422.2 1380.0L1423.8 1377.8L1425.5 1379.4L1427.1 1376.7L1428.7 1377.8L1430.4 1375.8L1432.0 1377.2L1433.6 1375.4L1435.3 1376.8L1436.9 1375.8L1438.5 1377.8L1440.2 1376.6L1441.8 1378.8L1443.5 1377.5L1445.1 1379.3L1446.7 1378.6L1448.4 1380.6L1450.0 1379.5L1451.6 1381.7L1453.3 1379.9L1454.9 1382.5L1456.5 1380.5L1458.2 1382.2L1459.8 1381.2L1461.5 1383.0L1463.1 1380.8L1464.7 1383.2L1466.4 1380.6L1468.0 1383.1L1469.6 1381.1L1471.3 1383.7L1472.9 1381.8L1474.5 1383.8L1476.2 1381.0L1477.8 1383.1L1479.5 1380.8L1481.1 1382.1L1482.7 1380.0L1484.4 1381.2L1486.0 1379.1L1487.6 1380.4L1489.3 1378.5L1490.9 1379.7L1492.5 1378.1L1494.2 1378.4L1495.8 1377.1L1497.5 1377.9L1499.1 1376.4L1500.7 1377.3L1502.4 1375.8L1504.0 1376.8L1505.6 1375.6L1507.3 1376.9L1508.9 1375.1L1510.5 1376.5L1512.2 1375.4L1513.8 1377.7L1515.5 1375.8L1517.1 1378.5L1518.7 1377.1L1520.4 1379.6L1522.0 1377.9L1523.6 1379.6L1525.3 1378.4L1526.9 1379.3L1528.5 1377.7L1530.2 1379.6L1531.8 1377.9L1533.5 1379.0L1535.1 1377.5L1536.7 1379.0L1538.4 1377.4L1540.0 1378.8L1541.6 1376.3L1543.3 1378.3L1544.9 1376.3L1546.5 1377.8L1548.2 1376.4L1549.8 1378.4L1551.5 1376.1L1553.1 1378.7L1554.7 1376.7L1556.4 1378.0L1558.0 1376.9L1559.6 1378.1L1561.3 1376.7L1562.9 1378.1L1564.5 1377.0L1566.2 1378.9L1567.8 1377.5L1569.5 1378.9L1571.1 1377.8L1572.7 1380.6L1574.4 1380.6L1576.0 1383.3L1577.6 1383.0L1579.3 1385.3L1580.9 1383.9L1582.5 1385.9L1584.2 1385.1L1585.8 1386.9L1587.5 1384.8L1589.1 1387.3L1590.7 1385.8L1592.4 1386.3L1594.0 1383.1L1595.6 1384.0L1597.3 1380.9L1598.9 1382.0L1600.5 1378.5L1602.2 1378.8L1603.8 1378.0L1605.5 1380.0L1607.1 1379.4L1608.7 1381.6L1610.4 1380.2L1612.0 1382.9L1613.6 1381.4L1615.3 1383.4L1616.9 1381.8L1618.5 1384.0L1620.2 1382.2L1621.8 1384.3L1623.5 1381.8L1625.1 1384.3L1626.7 1382.5L1628.4 1384.6L1630.0 1382.8L1631.6 1384.5L1633.3 1383.1L1634.9 1384.4L1636.5 1382.8L1638.2 1384.9L1639.8 1383.5L1641.5 1385.0L1643.1 1382.7L1644.7 1383.9L1646.4 1381.4L1648.0 1382.6L1649.6 1379.4L1651.3 1380.9L1652.9 1378.2L1654.5 1379.2L1656.2 1377.1L1657.8 1377.6L1659.5 1375.7L1661.1 1376.7L1662.7 1375.6L1664.4 1377.7L1666.0 1376.3L1667.6 1378.9L1669.3 1377.7L1670.9 1379.6L1672.5 1378.5L1674.2 1379.0L1675.8 1377.4L1677.5 1378.9L1679.1 1375.5L1680.7 1377.1L1682.4 1374.2L1684.0 1377.8L1685.6 1376.3L1687.3 1379.3L1688.9 1377.6L1690.5 1380.3L1692.2 1379.3L1693.8 1382.1L1695.5 1380.5L1697.1 1383.3L1698.7 1381.7L1700.4 1383.5L1702.0 1382.8L1703.6 1384.3L1705.3 1382.2L1706.9 1383.6L1708.5 1381.6L1710.2 1383.4L1711.8 1381.8L1713.5 1382.9L1715.1 1380.7L1716.7 1382.0L1718.4 1380.9L1720.0 1381.9L1721.6 1380.1L1723.3 1382.2L1724.9 1379.1L1726.5 1382.2L1728.2 1378.3L1729.8 1380.6L1731.5 1378.4L1733.1 1380.1L1734.7 1378.0L1736.4 1380.5L1738.0 1378.2L1739.6 1380.5L1741.3 1379.1L1742.9 1380.2L1744.5 1379.1L1746.2 1381.3L1747.8 1378.1L1749.5 1380.8L1751.1 1378.9L1752.7 1381.4L1754.4 1378.9L1756.0 1381.3L1757.6 1378.5L1759.3 1380.9L1760.9 1377.5L1762.5 1379.5L1764.2 1377.3L1765.8 1378.6L1767.5 1376.8L1769.1 1378.0L1770.7 1375.8L1772.4 1378.6L1774.0 1376.8L1775.6 1379.1L1777.3 1377.6L1778.9 1379.3L1780.5 1377.7L1782.2 1380.2L1783.8 1378.3L1785.5 1380.1L1787.1 1378.5L1788.7 1379.8L1790.4 1377.9L1792.0 1380.6L1793.6 1378.1L1795.3 1379.7L1796.9 1378.5L1798.5 1379.7L1800.2 1378.5L1801.8 1379.9L1803.5 1377.7L1805.1 1379.2L1806.7 1378.0L1808.4 1379.0L1810.0 1377.4L1811.6 1379.1L1813.3 1377.5L1814.9 1378.7L1816.5 1376.6L1818.2 1378.8L1819.8 1376.4L1821.5 1378.4L1823.1 1376.5L1824.7 1378.6L1826.4 1376.2L1828.0 1378.8L1829.6 1377.1L1831.3 1380.2L1832.9 1377.4L1834.5 1381.0L1836.2 1379.2L1837.8 1381.7L1839.5 1380.5L1841.1 1382.6L1842.7 1381.7L1844.4 1383.3L1846.0 1382.6L1847.6 1383.8L1849.3 1381.5L1850.9 1382.6L1852.5 1381.0L1854.2 1383.1L1855.8 1382.8L1857.5 1384.7L1859.1 1384.4L1860.7 1386.4L1862.4 1384.3L1864.0 1385.1L1865.6 1382.4L1867.3 1383.2L1868.9 1381.4L1870.5 1381.7L1872.2 1380.2L1873.8 1380.6L1875.5 1378.7L1877.1 1379.7L1878.7 1377.6L1880.4 1378.1L1882.0 1376.3L1883.6 1378.1L1884.1 1376.9" fill="none" stroke="#62c7d3" stroke-width="7.5" stroke-linejoin="round" stroke-linecap="butt"/>
<g fill="#62c7d3" fill-rule="evenodd"><path d="M388.10 863.10L343.90 886.00L388.10 908.90ZM380.20 875.70L360.10 886.00L380.20 896.30Z"/><path d="M490.37 1219.10L446.17 1242.00L490.37 1264.90ZM482.47 1231.70L462.37 1242.00L482.47 1252.30Z"/><path d="M592.64 1354.10L548.44 1377.00L592.64 1399.90ZM584.74 1366.70L564.64 1377.00L584.74 1387.30Z"/><path d="M694.91 1356.50L650.71 1379.40L694.91 1402.30ZM687.01 1369.10L666.91 1379.40L687.01 1389.70Z"/><path d="M797.18 1354.30L752.98 1377.20L797.18 1400.10ZM789.28 1366.90L769.18 1377.20L789.28 1387.50Z"/><path d="M899.45 1354.00L855.25 1376.90L899.45 1399.80ZM891.55 1366.60L871.45 1376.90L891.55 1387.20Z"/><path d="M1001.72 1356.70L957.52 1379.60L1001.72 1402.50ZM993.82 1369.30L973.72 1379.60L993.82 1389.90Z"/><path d="M1103.99 1356.70L1059.79 1379.60L1103.99 1402.50ZM1096.09 1369.30L1075.99 1379.60L1096.09 1389.90Z"/><path d="M1206.26 1352.10L1162.06 1375.00L1206.26 1397.90ZM1198.36 1364.70L1178.26 1375.00L1198.36 1385.30Z"/><path d="M1308.53 1356.60L1264.33 1379.50L1308.53 1402.40ZM1300.63 1369.20L1280.53 1379.50L1300.63 1389.80Z"/><path d="M1410.80 1363.10L1366.60 1386.00L1410.80 1408.90ZM1402.90 1375.70L1382.80 1386.00L1402.90 1396.30Z"/><path d="M1513.07 1356.40L1468.87 1379.30L1513.07 1402.20ZM1505.17 1369.00L1485.07 1379.30L1505.17 1389.60Z"/><path d="M1615.34 1358.60L1571.14 1381.50L1615.34 1404.40ZM1607.44 1371.20L1587.34 1381.50L1607.44 1391.80Z"/><path d="M1717.61 1354.20L1673.41 1377.10L1717.61 1400.00ZM1709.71 1366.80L1689.61 1377.10L1709.71 1387.40Z"/><path d="M1819.88 1361.30L1775.68 1384.20L1819.88 1407.10ZM1811.98 1373.90L1791.88 1384.20L1811.98 1394.50Z"/><path d="M1922.15 1356.40L1877.95 1379.30L1922.15 1402.20ZM1914.25 1369.00L1894.15 1379.30L1914.25 1389.60Z"/><path d="M2024.42 1354.20L1980.22 1377.10L2024.42 1400.00ZM2016.52 1366.80L1996.42 1377.10L2016.52 1387.40Z"/></g>
<rect x="1386.4" y="46.9" width="688.4" height="773.8" fill="#fff"/><g fill="#4d4d4f"><rect x="1386.4" y="45" width="7.5" height="775.7"/><rect x="2065.3" y="45" width="9.5" height="775.7"/><rect x="1386.4" y="45" width="688.4" height="9.8"/><rect x="1386.4" y="814.1" width="688.4" height="6.6"/></g><rect x="1409" y="115.15" width="98" height="7.7" fill="#231f20"/><g fill="#231f20" fill-rule="evenodd"><path d="M1442.30 105.10L1475.30 105.10L1475.30 134.90L1442.30 134.90ZM1450.10 111.90L1467.50 111.90L1467.50 128.10L1450.10 128.10Z"/></g><g font-family="'Liberation Serif','Times New Roman',Times,serif"><text transform="translate(1512.00 136.00) scale(1.1800 1)" font-size="81" text-anchor="start" fill="#231f20" font-style="italic">ρ</text><text transform="translate(1541.00 171.00) scale(1.1250 1)" font-size="52.3" text-anchor="start" fill="#231f20">CIM</text><text transform="translate(1667.00 135.90) scale(1.4000 1)" font-size="61" text-anchor="start" fill="#231f20">=</text><text transform="translate(1727.20 138.00) scale(1.0700 1)" font-size="70" text-anchor="start" fill="#231f20">9</text><text transform="translate(1784.60 139.50) scale(1.0500 1)" font-size="70" text-anchor="start" fill="#231f20">×</text><text transform="translate(1830.00 138.00) scale(1.1160 1)" font-size="70" text-anchor="start" fill="#231f20" letter-spacing="-2.4">10</text><text transform="translate(1917.20 107.00) scale(1.1100 1)" font-size="52.9" text-anchor="start" fill="#231f20">-</text><text transform="translate(1951.30 106.00) scale(1.1100 1)" font-size="52.9" text-anchor="start" fill="#231f20">4</text></g><rect x="1409" y="241.15" width="98" height="7.7" fill="#ed2728"/><g fill="#ed2728" fill-rule="evenodd"><path d="M1458.80 219.00L1478.30 244.00L1458.80 269.00L1439.30 244.00ZM1458.80 230.90L1468.90 244.00L1458.80 257.10L1448.70 244.00Z"/></g><g font-family="'Liberation Serif','Times New Roman',Times,serif"><text transform="translate(1512.00 262.00) scale(1.1800 1)" font-size="81" text-anchor="start" fill="#231f20" font-style="italic">ρ</text><text transform="translate(1541.00 297.00) scale(1.1250 1)" font-size="52.3" text-anchor="start" fill="#231f20">CIM</text><text transform="translate(1667.00 261.90) scale(1.4000 1)" font-size="61" text-anchor="start" fill="#231f20">=</text><text transform="translate(1727.20 264.00) scale(1.0700 1)" font-size="70" text-anchor="start" fill="#231f20">5</text><text transform="translate(1784.60 265.50) scale(1.0500 1)" font-size="70" text-anchor="start" fill="#231f20">×</text><text transform="translate(1830.00 264.00) scale(1.1160 1)" font-size="70" text-anchor="start" fill="#231f20" letter-spacing="-2.4">10</text><text transform="translate(1917.20 233.00) scale(1.1100 1)" font-size="52.9" text-anchor="start" fill="#231f20">-</text><text transform="translate(1951.30 232.00) scale(1.1100 1)" font-size="52.9" text-anchor="start" fill="#231f20">4</text></g><rect x="1409" y="367.15" width="98" height="7.7" fill="#6cbd45"/><g fill="#6cbd45" fill-rule="evenodd"><path d="M1439.90 371.00A18.90 18.30 0 1 0 1477.70 371.00A18.90 18.30 0 1 0 1439.90 371.00ZM1447.80 371.00A11.00 10.50 0 1 0 1469.80 371.00A11.00 10.50 0 1 0 1447.80 371.00Z"/></g><g font-family="'Liberation Serif','Times New Roman',Times,serif"><text transform="translate(1512.00 388.00) scale(1.1800 1)" font-size="81" text-anchor="start" fill="#231f20" font-style="italic">ρ</text><text transform="translate(1541.00 423.00) scale(1.1250 1)" font-size="52.3" text-anchor="start" fill="#231f20">CIM</text><text transform="translate(1667.00 387.90) scale(1.4000 1)" font-size="61" text-anchor="start" fill="#231f20">=</text><text transform="translate(1727.20 390.00) scale(1.0700 1)" font-size="70" text-anchor="start" fill="#231f20">9</text><text transform="translate(1784.60 391.50) scale(1.0500 1)" font-size="70" text-anchor="start" fill="#231f20">×</text><text transform="translate(1830.00 390.00) scale(1.1160 1)" font-size="70" text-anchor="start" fill="#231f20" letter-spacing="-2.4">10</text><text transform="translate(1917.20 359.00) scale(1.1100 1)" font-size="52.9" text-anchor="start" fill="#231f20">-</text><text transform="translate(1951.30 358.00) scale(1.1100 1)" font-size="52.9" text-anchor="start" fill="#231f20">5</text></g><rect x="1409" y="493.15" width="98" height="7.7" fill="#2155a5"/><g fill="#2155a5" fill-rule="evenodd"><path d="M1458.80 470.90L1483.80 510.80L1433.80 510.80ZM1458.80 485.80L1470.20 503.30L1447.40 503.30Z"/></g><g font-family="'Liberation Serif','Times New Roman',Times,serif"><text transform="translate(1512.00 514.00) scale(1.1800 1)" font-size="81" text-anchor="start" fill="#231f20" font-style="italic">ρ</text><text transform="translate(1541.00 549.00) scale(1.1250 1)" font-size="52.3" text-anchor="start" fill="#231f20">CIM</text><text transform="translate(1667.00 513.90) scale(1.4000 1)" font-size="61" text-anchor="start" fill="#231f20">=</text><text transform="translate(1727.20 516.00) scale(1.0700 1)" font-size="70" text-anchor="start" fill="#231f20">5</text><text transform="translate(1784.60 517.50) scale(1.0500 1)" font-size="70" text-anchor="start" fill="#231f20">×</text><text transform="translate(1830.00 516.00) scale(1.1160 1)" font-size="70" text-anchor="start" fill="#231f20" letter-spacing="-2.4">10</text><text transform="translate(1917.20 485.00) scale(1.1100 1)" font-size="52.9" text-anchor="start" fill="#231f20">-</text><text transform="translate(1951.30 484.00) scale(1.1100 1)" font-size="52.9" text-anchor="start" fill="#231f20">5</text></g><rect x="1409" y="619.15" width="98" height="7.7" fill="#a458a4"/><g fill="#a458a4" fill-rule="evenodd"><path d="M1444.10 600.30L1488.40 623.00L1444.10 645.70ZM1452.00 612.70L1472.20 623.00L1452.00 633.30Z"/></g><g font-family="'Liberation Serif','Times New Roman',Times,serif"><text transform="translate(1512.00 640.00) scale(1.1800 1)" font-size="81" text-anchor="start" fill="#231f20" font-style="italic">ρ</text><text transform="translate(1541.00 675.00) scale(1.1250 1)" font-size="52.3" text-anchor="start" fill="#231f20">CIM</text><text transform="translate(1667.00 639.90) scale(1.4000 1)" font-size="61" text-anchor="start" fill="#231f20">=</text><text transform="translate(1727.20 642.00) scale(1.0700 1)" font-size="70" text-anchor="start" fill="#231f20">5</text><text transform="translate(1784.60 643.50) scale(1.0500 1)" font-size="70" text-anchor="start" fill="#231f20">×</text><text transform="translate(1830.00 642.00) scale(1.1160 1)" font-size="70" text-anchor="start" fill="#231f20" letter-spacing="-2.4">10</text><text transform="translate(1917.20 611.00) scale(1.1100 1)" font-size="52.9" text-anchor="start" fill="#231f20">-</text><text transform="translate(1951.30 610.00) scale(1.1100 1)" font-size="52.9" text-anchor="start" fill="#231f20">6</text></g><rect x="1409" y="745.15" width="98" height="7.7" fill="#62c7d3"/><g fill="#62c7d3" fill-rule="evenodd"><path d="M1473.40 726.10L1429.20 749.00L1473.40 771.90ZM1465.50 738.70L1445.40 749.00L1465.50 759.30Z"/></g><g font-family="'Liberation Serif','Times New Roman',Times,serif"><text transform="translate(1512.00 766.00) scale(1.1800 1)" font-size="81" text-anchor="start" fill="#231f20" font-style="italic">ρ</text><text transform="translate(1541.00 801.00) scale(1.1250 1)" font-size="52.3" text-anchor="start" fill="#231f20">CIM</text><text transform="translate(1667.00 765.90) scale(1.4000 1)" font-size="61" text-anchor="start" fill="#231f20">=</text><text transform="translate(1727.20 768.00) scale(1.0700 1)" font-size="70" text-anchor="start" fill="#231f20">5</text><text transform="translate(1784.60 769.50) scale(1.0500 1)" font-size="70" text-anchor="start" fill="#231f20">×</text><text transform="translate(1830.00 768.00) scale(1.1160 1)" font-size="70" text-anchor="start" fill="#231f20" letter-spacing="-2.4">10</text><text transform="translate(1917.20 737.00) scale(1.1100 1)" font-size="52.9" text-anchor="start" fill="#231f20">-</text><text transform="translate(1951.30 736.00) scale(1.1100 1)" font-size="52.9" text-anchor="start" fill="#231f20">7</text></g></svg></body></html>
